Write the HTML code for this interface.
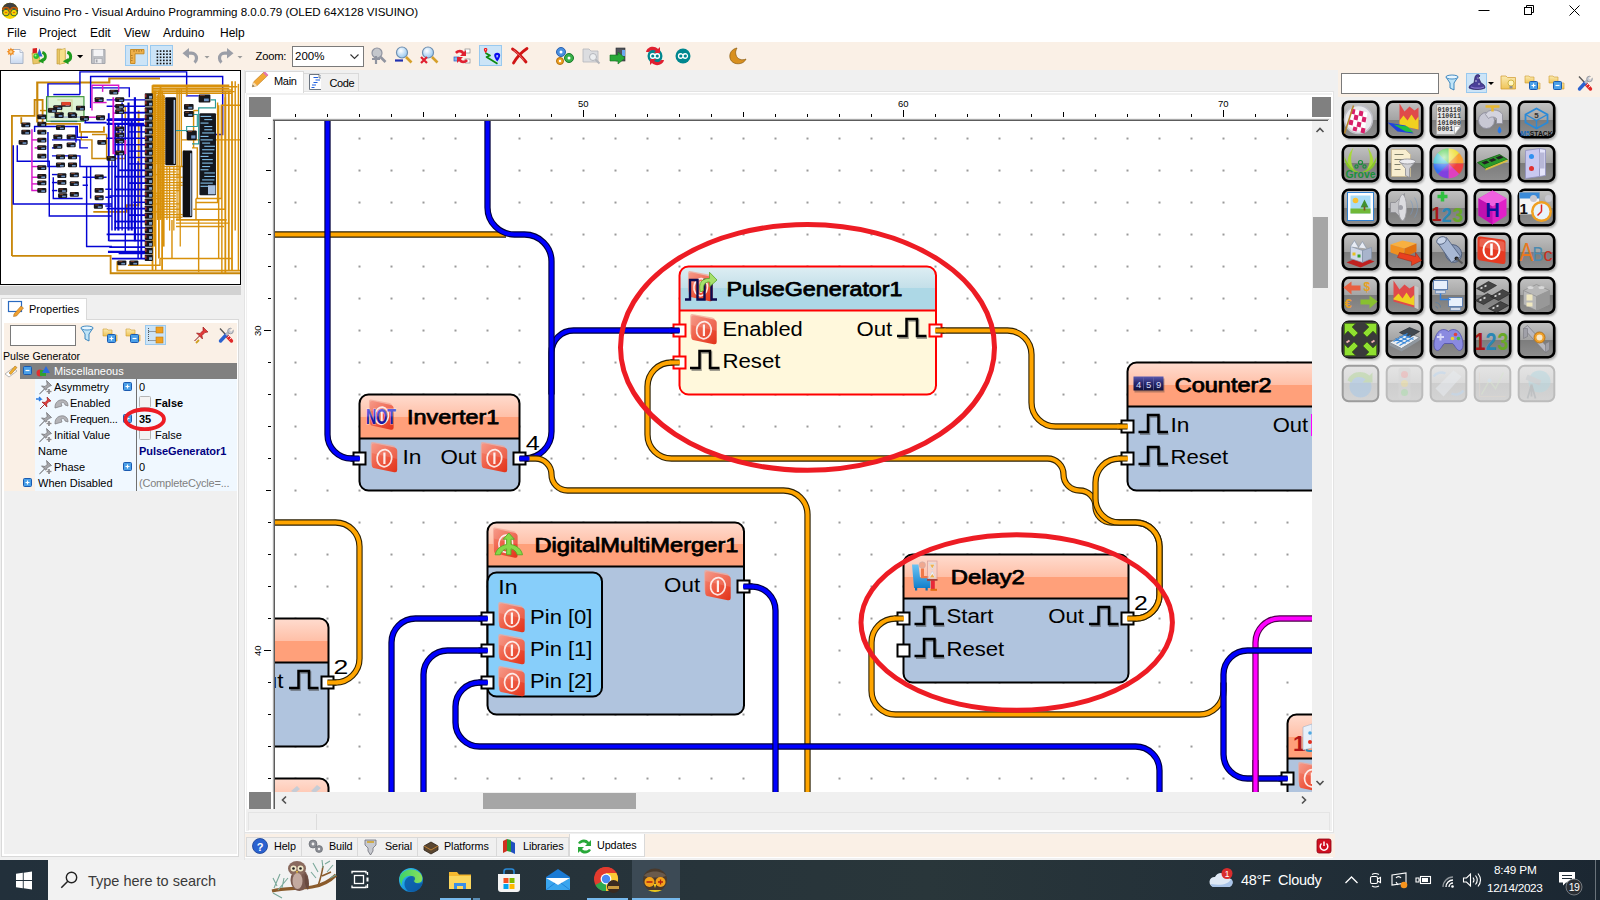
<!DOCTYPE html>
<html><head><meta charset="utf-8"><title>Visuino</title>
<style>
*{box-sizing:border-box;margin:0;padding:0}
html,body{width:1600px;height:900px;overflow:hidden;background:#f0f0f0;font-family:"Liberation Sans",sans-serif;font-size:12px;color:#000}
.a{position:absolute}
.t{position:absolute;white-space:nowrap;line-height:1}
#title{left:0;top:0;width:1600px;height:22px;background:#fff}
#menu{left:0;top:22px;width:1600px;height:20px;background:#fff}
#tool{left:0;top:42px;width:1600px;height:28px;background:#faf0e6}
#task{left:0;top:860px;width:1600px;height:40px;background:#1e2d3c}
.m{top:5px;font-size:12px}
.b{top:771px;font-size:10.800px;letter-spacing:-.1px}
.bt{top:768px;width:1px;height:18px;background:#d9d9d9}
.p{font-size:11px}
</style></head><body>

<!-- TITLE -->
<div id="title" class="a">
<svg class="a" style="left:1px;top:2px" width="18" height="18" viewBox="1 2 18 18"><defs><clipPath id="oc"><circle cx="10" cy="10.800" r="8.100"/></clipPath></defs><g clip-path="url(#oc)"><rect x="1" y="2" width="18" height="18" fill="#f5d800"/><rect x="1" y="2" width="18" height="7.500" fill="#404040"/><path d="M1 8.500c3 0 6 .5 9 2.500 3-2 6-2.500 9-2.500v2c-3 0-6 .5-9 2.500-3-2-6-2.500-9-2.500z" fill="#c05a08"/><path d="M1 10h2v5h-2zM17 10h2v5h-2z" fill="#2a4a3a"/><circle cx="6" cy="12.600" r="3.300" fill="#f8c800" stroke="#2f6a3a" stroke-width="1"/><circle cx="14" cy="12.600" r="3.300" fill="#f8d800" stroke="#2f6a3a" stroke-width="1"/><path d="M2.500 10.200a3.600 3.600 0 0 1 7 0M10.500 10.200a3.600 3.600 0 0 1 7 0" fill="none" stroke="#c05a08" stroke-width="1.400"/><ellipse cx="6" cy="12.500" rx="1.300" ry=".8" fill="#d86a10"/><ellipse cx="14" cy="12.500" rx="1.300" ry=".8" fill="#d86a10"/><path d="M10 10.500v4" stroke="#c86a10" stroke-width="1.200"/></g></svg>
<span class="t" id="ttl" style="left:23px;top:6px;font-size:11.600px;letter-spacing:-.04px">Visuino Pro - Visual Arduino Programming 8.0.0.79 (OLED 64X128 VISUINO)</span>
<svg class="a" style="left:1470px;top:0" width="130" height="22" viewBox="0 0 130 22" fill="none" stroke="#000" stroke-width="1"><path d="M8.5 10.5h11"/><rect x="54.5" y="7.5" width="7" height="7"/><path d="M56.5 7.5v-2h7v7h-2"/><path d="M99.5 5.5l10 10M109.5 5.5l-10 10"/></svg>
</div>
<div id="menu" class="a">
<span class="t m" style="left:7px">File</span><span class="t m" style="left:39px">Project</span><span class="t m" style="left:90px">Edit</span><span class="t m" style="left:124px">View</span><span class="t m" style="left:163px">Arduino</span><span class="t m" style="left:220px">Help</span>
</div>
<div id="tool" class="a">
<svg class="a" style="left:0;top:0" width="770" height="28" viewBox="0 42 770 28">
<defs>
<linearGradient id="gFold" x1="0" y1="0" x2="0" y2="1"><stop offset="0" stop-color="#fbeab0"/><stop offset="1" stop-color="#efc457"/></linearGradient>
<radialGradient id="gLens" cx=".4" cy=".35" r=".7"><stop offset="0" stop-color="#fff"/><stop offset="1" stop-color="#8fc4f0"/></radialGradient>
</defs>
<!-- new -->
<defs><linearGradient id="gDoc" x1="0" y1="0" x2="0" y2="1"><stop offset="0" stop-color="#fff"/><stop offset="1" stop-color="#c9d9f0"/></linearGradient></defs>
<path d="M10.500 49.500h9.500l3 3v11h-12.500z" fill="url(#gDoc)" stroke="#a9b4c6"/><path d="M20 49.500v3h3" fill="#eef3fb" stroke="#a9b4c6" stroke-width=".8"/><path d="M10.900 47.600l1 1.800 2-.6-.6 2 1.800 1-1.800 1 .6 2-2-.6-1 1.800-1-1.800-2 .6.600-2-1.800-1 1.800-1-.6-2 2 .6z" fill="#f08a1c"/><circle cx="10.900" cy="51.800" r="1.600" fill="#fbd08a"/>
<!-- open proj -->
<path d="M32 53h7l1 10-7 1z" fill="#e9c766" stroke="#b8922e" stroke-width=".6"/><path d="M32.600 48.500l4.400-.5v4.700l-4.400.5z" fill="#d82020"/><path d="M39.500 48.500l3 8h-6z" fill="#2a6ad8"/><circle cx="36.200" cy="56.300" r="2.700" fill="#2cc02c"/><circle cx="35.500" cy="55.500" r="1" fill="#a8f0a0"/><path d="M42.300 52.300a4.300 4.300 0 0 1 .2 8.200" fill="none" stroke="#1e9a1e" stroke-width="2.800"/><path d="M43.500 57.800v5.800l-5.300-2.700z" fill="#1e9a1e"/>
<!-- folder arrow -->
<path d="M57 49h4.500l1 1.300h2.700V63l-8.200 1z" fill="#e9c766" stroke="#b8922e" stroke-width=".6"/><path d="M59.500 50l5.700-1.700V62.500L59.500 64.500z" fill="#f6e08a" stroke="#c09a38" stroke-width=".5"/><path d="M67.300 52.300a4.600 4.600 0 0 1 .2 8.800" fill="none" stroke="#1e9a1e" stroke-width="3"/><path d="M68.500 58v6.200l-5.700-2.900z" fill="#1e9a1e"/>
<path d="M77 55h6.200l-3.100 3.300z" fill="#000"/>
<!-- save disabled -->
<path d="M91.500 49.500h13.500v14h-13.500z" fill="#bdbfc4" stroke="#a4a6ac"/><rect x="93.500" y="49.500" width="9.500" height="6.500" fill="#f4f4f6"/><rect x="94.500" y="58.500" width="7.500" height="5" fill="#ececee" stroke="#a4a6ac" stroke-width=".6"/><rect x="95.800" y="59.500" width="1.700" height="3" fill="#a4a6ac"/>
<!-- ruler btn -->
<rect x="125.500" y="45.500" width="22" height="20" fill="#cce4f7" stroke="#99c9ef"/><path d="M130.500 49.500h13.500v4.300h-9v9.700h-4.500z" fill="#eeb04a" stroke="#c4861c" stroke-width=".9"/><path d="M134 50v2M136.500 50v1.500M139 50v2M141.500 50v1.500M131 55.500h1.500M131 58h2M131 60.500h1.500" stroke="#8a5a10" stroke-width=".6"/>
<!-- grid btn -->
<rect x="150.500" y="45.500" width="22" height="20" fill="#cce4f7" stroke="#99c9ef"/>
<g fill="#111"><rect x="156.6" y="50.3" width="1.600" height="1.600"/><rect x="156.6" y="53.4" width="1.600" height="1.600"/><rect x="156.6" y="56.5" width="1.600" height="1.600"/><rect x="156.6" y="59.6" width="1.600" height="1.600"/><rect x="156.6" y="62.7" width="1.600" height="1.600"/><rect x="159.8" y="50.3" width="1.600" height="1.600"/><rect x="159.8" y="53.4" width="1.600" height="1.600"/><rect x="159.8" y="56.5" width="1.600" height="1.600"/><rect x="159.8" y="59.6" width="1.600" height="1.600"/><rect x="159.8" y="62.7" width="1.600" height="1.600"/><rect x="163.0" y="50.3" width="1.600" height="1.600"/><rect x="163.0" y="53.4" width="1.600" height="1.600"/><rect x="163.0" y="56.5" width="1.600" height="1.600"/><rect x="163.0" y="59.6" width="1.600" height="1.600"/><rect x="163.0" y="62.7" width="1.600" height="1.600"/><rect x="166.2" y="50.3" width="1.600" height="1.600"/><rect x="166.2" y="53.4" width="1.600" height="1.600"/><rect x="166.2" y="56.5" width="1.600" height="1.600"/><rect x="166.2" y="59.6" width="1.600" height="1.600"/><rect x="166.2" y="62.7" width="1.600" height="1.600"/><rect x="169.4" y="50.3" width="1.600" height="1.600"/><rect x="169.4" y="53.4" width="1.600" height="1.600"/><rect x="169.4" y="56.5" width="1.600" height="1.600"/><rect x="169.4" y="59.6" width="1.600" height="1.600"/><rect x="169.4" y="62.7" width="1.600" height="1.600"/></g>
<!-- undo/redo -->
<path d="M188 53.200h3.500a5 5 0 0 1 5 5c0 1.800-.8 3.200-2 4.200" fill="none" stroke="#9b9ea7" stroke-width="3.200"/><path d="M182.500 53.200l6.500-5.200v10.400z" fill="#9b9ea7"/><path d="M204.500 56h5l-2.500 2.500z" fill="#9a9a9a"/>
<path d="M228 53.200h-3.500a5 5 0 0 0-5 5c0 1.800.8 3.200 2 4.200" fill="none" stroke="#9b9ea7" stroke-width="3.200"/><path d="M233.500 53.200l-6.500-5.200v10.400z" fill="#9b9ea7"/><path d="M237.500 56h5l-2.500 2.500z" fill="#9a9a9a"/>
<!-- combobox -->
<rect x="292.500" y="46.500" width="71" height="20" fill="#fff" stroke="#7a7a7a"/><path d="M350.500 54.500l4 4 4-4" fill="none" stroke="#333" stroke-width="1.100"/>
<!-- zoom icons -->
<g><circle cx="377" cy="53" r="5" fill="#c4c7cc" stroke="#9094a0" stroke-width="1.200"/><path d="M380.500 57l5 5" stroke="#9094a0" stroke-width="2.600"/><path d="M372 59h8M376 56v8" stroke="#9094a0" stroke-width="2.200"/></g>
<g><circle cx="402" cy="52.500" r="5.500" fill="url(#gLens)" stroke="#6f8fb0" stroke-width="1.200"/><path d="M406 57l5.500 5.500" stroke="#d6a02a" stroke-width="2.600"/><path d="M395 60.500h8" stroke="#2030b0" stroke-width="2.200"/></g>
<g><circle cx="428" cy="52.500" r="5.500" fill="url(#gLens)" stroke="#6f8fb0" stroke-width="1.200"/><path d="M432 57l5.500 5.500" stroke="#d6a02a" stroke-width="2.600"/><path d="M421 57l6 6M427 57l-6 6" stroke="#e02030" stroke-width="2.200"/></g>
<!-- arrows swap -->
<g><rect x="465" y="49" width="5" height="4" fill="#fff" stroke="#8a8a8a" stroke-width=".7"/><rect x="465" y="59" width="5" height="4" fill="#fff" stroke="#8a8a8a" stroke-width=".7"/><rect x="454" y="57" width="5" height="4" fill="#7fb8f0" stroke="#3060c0" stroke-width=".7"/><path d="M455 52c3-3 7-3 9 0l2-2v6h-6l2-2c-1-2-4-2-5 0z" fill="#e02030"/><path d="M468 61c-3 3-7 3-9 0l-2 2v-6h6l-2 2c1 2 4 2 5 0z" fill="#e02030"/></g>
<!-- route selected -->
<rect x="479.500" y="45.500" width="22" height="20" fill="#cce4f7" stroke="#99c9ef"/><path d="M485.500 53l4.500 2.500-3.500 1.500 11 6.700" fill="none" stroke="#0e8a0e" stroke-width="1.700" stroke-linejoin="round"/><path d="M485.600 53.200c-2.300-3-2.300-5.200 0-5.200s2.300 2.200 0 5.200z" fill="#f01010"/><circle cx="485.600" cy="49.700" r=".7" fill="#fbb"/><path d="M497.200 61.500c-4-5-4-8.700 0-8.700s4 3.700 0 8.700z" fill="#0808f0"/><rect x="496.300" y="55" width="1.800" height="2.400" fill="#9ab0ff"/>
<!-- red X -->
<path d="M512.500 49c5 3 9 7.500 13.500 13M527 48.500c-6 4-10 8.500-13.500 14.500" stroke="#d01414" stroke-width="2.800" fill="none" stroke-linecap="round"/><path d="M513.500 50c4 3 7 6 10.500 10.500" stroke="#f08080" stroke-width=".8" fill="none"/>
<!-- gears -->
<g><circle cx="561" cy="52" r="4.500" fill="#4a90e0" stroke="#2a60b0"/><circle cx="569" cy="58" r="4.500" fill="#38b048" stroke="#1a7a28"/><circle cx="560" cy="61" r="3.500" fill="#f0a020" stroke="#b07010"/><circle cx="561" cy="52" r="1.500" fill="#fff"/><circle cx="569" cy="58" r="1.500" fill="#fff"/><circle cx="560" cy="61" r="1.200" fill="#fff"/></g>
<!-- gray folder -->
<g><path d="M583 49h6l2 2h7v11h-15z" fill="#dcdde0" stroke="#b4b6bb" stroke-width=".8"/><circle cx="593" cy="57" r="3.500" fill="#eceef0" stroke="#b4b6bb"/><path d="M595.500 59.500l4 4" stroke="#b4b6bb" stroke-width="2"/></g>
<!-- upload -->
<g><rect x="616" y="48" width="9" height="13" fill="#50545c" stroke="#2a2c30" stroke-width=".6"/><rect x="622" y="50" width="3" height="6" fill="#6aa8f0"/><path d="M610 55h8v-3l7 6-7 6v-3h-8z" fill="#28a838" stroke="#107020" stroke-width=".6"/></g>
<!-- arduino red/teal -->
<g><circle cx="655" cy="56" r="7.500" fill="#00878f"/><path d="M650.500 56a2 2 0 1 1 4.500 0a2 2 0 1 0 4.500 0a2 2 0 1 0-4.500 0a2 2 0 1 1-4.500 0z" fill="none" stroke="#fff" stroke-width="1.300"/><path d="M646 52c1-5 8-7 12-3l2-2v6h-6l2-2c-3-2-6-1-7 1z" fill="#e02030"/><path d="M664 60c-1 5-8 7-12 3l-2 2v-6h6l-2 2c3 2 6 1 7-1z" fill="#e02030"/></g>
<g><circle cx="683" cy="56" r="7.500" fill="#00878f"/><path d="M678.500 56a2 2 0 1 1 4.500 0a2 2 0 1 0 4.500 0a2 2 0 1 0-4.500 0a2 2 0 1 1-4.500 0z" fill="none" stroke="#fff" stroke-width="1.300"/></g>
<!-- moon -->
<path d="M737 48c-5 1-8 5-7 10 1 5 7 7 12 5 2-1 3-2 4-4-4 2-9 0-10-4-1-3 0-5 1-7z" fill="#d89020" stroke="#8a5a10" stroke-width=".7"/>
</svg>
<span class="t" style="left:255.500px;top:9px;font-size:11.200px;letter-spacing:-.2px">Zoom:</span>
<span class="t" style="left:295px;top:9px;font-size:11.500px">200%</span>
</div>

<!-- LEFT -->
<div id="left" class="a" style="left:0;top:70px;width:245px;height:790px;background:#f0f0f0">
<div class="a" style="left:0;top:0;width:241px;height:215px;background:#fff;border:1px solid #000"></div>
<div class="a" style="left:0;top:216px;width:241px;height:9px;background:#d2d2d2"></div>
<div class="a" style="left:241px;top:0;width:3px;height:790px;background:#f0f0f0"></div>
<div class="a" style="left:244px;top:0;width:1px;height:790px;background:#e4e4e4"></div>
<!-- properties frame -->
<div class="a" style="left:1px;top:249px;width:238px;height:538px;background:#fff;border:1px solid #d9d9d9"></div>
<div class="a" style="left:4px;top:253px;width:233px;height:531px;background:#f0f0f0"></div>
<div class="a" style="left:1px;top:228px;width:86px;height:22px;background:#fff;border:1px solid #d9d9d9;border-bottom:none"></div>
<span class="t" style="left:29px;top:234px;font-size:11px">Properties</span>
<!-- beige area -->
<div class="a" style="left:4px;top:253px;width:233px;height:40px;background:#faf0e6"></div>
<div class="a" style="left:4px;top:293px;width:31px;height:128px;background:#faf0e6"></div>
<div class="a" style="left:35px;top:309px;width:202px;height:112px;background:#f0f8ff"></div>
<div class="a" style="left:20px;top:293px;width:217px;height:16px;background:#808080"></div>
<div class="a" style="left:136px;top:309px;width:1px;height:112px;background:#707070"></div>
<div class="a" style="left:9.500px;top:254.500px;width:66px;height:21px;background:#fff;border:1px solid #7a7a7a"></div>
<div class="a" style="left:144.500px;top:254.500px;width:21px;height:20px;background:#cce4f7;border:1px solid #99c9ef"></div>
<span class="t" style="left:3px;top:281px;font-size:10.600px">Pulse Generator</span>
<span class="t" style="left:54px;top:296px;font-size:11px;color:#fff">Miscellaneous</span>
<span class="t p" style="left:54px;top:312px">Asymmetry</span>
<span class="t p" style="left:70px;top:328px">Enabled</span>
<span class="t p" style="left:70px;top:344px;letter-spacing:-.25px">Frequen...</span>
<span class="t p" style="left:54px;top:360px">Initial Value</span>
<span class="t p" style="left:38px;top:376px">Name</span>
<span class="t p" style="left:54px;top:392px">Phase</span>
<span class="t p" style="left:38px;top:408px">When Disabled</span>
<span class="t p" style="left:139px;top:312px">0</span>
<span class="t p" style="left:155px;top:328px;font-weight:bold">False</span>
<span class="t p" style="left:139px;top:344px;font-weight:bold">35</span>
<span class="t p" style="left:155px;top:360px">False</span>
<span class="t p" style="left:139px;top:376px;font-weight:bold;color:#000080;letter-spacing:-.05px">PulseGenerator1</span>
<span class="t p" style="left:139px;top:392px">0</span>
<span class="t p" style="left:139px;top:408px;color:#808080;letter-spacing:-.2px">(CompleteCycle=...</span>
<div class="a" style="left:139px;top:326px;width:12px;height:12px;background:#f3f3f3;border:1px solid #b4b4b4;border-radius:1.5px"></div>
<div class="a" style="left:139px;top:358px;width:12px;height:12px;background:#f3f3f3;border:1px solid #b4b4b4;border-radius:1.5px"></div>
<svg class="a" style="left:0;top:228px" width="245" height="200" viewBox="0 298 245 200">
<defs><linearGradient id="gF2" x1="0" y1="0" x2="0" y2="1"><stop offset="0" stop-color="#fbeab0"/><stop offset="1" stop-color="#efc457"/></linearGradient>
<g id="plus"><rect x=".5" y=".5" width="8" height="8" rx="1" fill="#4aa0e8" stroke="#1a5ab0"/><path d="M2.500 4.500h4M4.500 2.500v4" stroke="#fff" stroke-width="1.200"/></g>
<g id="gpin"><path d="M8.500 .5l5 5-2.300.8-2.200 2.200.6 3.500-3-3L1.500 14l5-5.100-3-3 3.500.6 2.200-2.200z" fill="#a4a4a8" stroke="#6c6c70" stroke-width=".7"/><path d="M8 11.500h6M11 8.500v6" stroke="#fff" stroke-width="3"/><path d="M8.500 11.500h5M11 9v5" stroke="#8a8a8e" stroke-width="1.700"/></g>
<g id="garr"><path d="M2 10c0-5 4-8 9-7 3 1 4 3 4 6l-3-1c0-2-2-3-4-2l1 3-7 2z" fill="#b4b4b8" stroke="#7a7a7e" stroke-width=".7"/></g>
</defs>
<!-- properties tab icon -->
<rect x="8.500" y="301.500" width="13" height="10" fill="#fff" stroke="#2a6ac0" stroke-width="1.200"/><path d="M14 314l7-8 2.500 2-7 8-3 .5z" fill="#f0a030" stroke="#a06010" stroke-width=".5"/>
<!-- toolbar icons -->
<path d="M81 328c0-2 12-2 12 0l-4 6v7l-4-2v-5z" fill="#bfe4f7" stroke="#2a7ab8" stroke-width=".9"/><ellipse cx="87" cy="328" rx="6" ry="2" fill="#e8f6ff" stroke="#2a7ab8" stroke-width=".8"/>
<g><path d="M103 329h4l1 1h4v6h-9z" fill="url(#gF2)" stroke="#cf9a2c" stroke-width=".6"/><path d="M108 334h4l1 1h4v6h-9z" fill="url(#gF2)" stroke="#cf9a2c" stroke-width=".6"/><use href="#plus" x="107" y="334"/></g>
<g><path d="M126 329h4l1 1h4v6h-9z" fill="url(#gF2)" stroke="#cf9a2c" stroke-width=".6"/><path d="M131 334h4l1 1h4v6h-9z" fill="url(#gF2)" stroke="#cf9a2c" stroke-width=".6"/><rect x="130.500" y="334.500" width="8" height="8" rx="1" fill="#4aa0e8" stroke="#1a5ab0"/><path d="M132.500 338.500h4" stroke="#fff" stroke-width="1.200"/></g>
<g transform="translate(-1 0)"><path d="M149.500 328v14M149.500 331.500h7M149.500 340.500h7" stroke="#555" stroke-width="1" stroke-dasharray="1 1"/><rect x="157" y="327" width="7" height="6" fill="#f0a020" stroke="#c07a10" stroke-width=".6"/><rect x="157" y="337" width="7" height="6" fill="#f0a020" stroke="#c07a10" stroke-width=".6"/></g>
<g><path d="M203 327l5 5-3 .5-3 3 .5 3.500-3-3-5 5 5-5-3-3 3.500.5 3-3z" fill="#e03a3a" stroke="#901010" stroke-width=".6"/><path d="M196 343l3-3" stroke="#d0a020" stroke-width="1.800"/></g>
<g transform="translate(219 328)"><path d="M1 0.500L7 7" stroke="#555" stroke-width="1.300"/><path d="M7 7l5.500 6" stroke="#e02828" stroke-width="3.400" stroke-linecap="round"/><path d="M8.500 9.500l2-2M10.500 11.500l2-2" stroke="#fff" stroke-width=".8"/><path d="M1.500 13L7.500 6.500" stroke="#2a62d0" stroke-width="3.400" stroke-linecap="round"/><path d="M7 7l3.500-3.500" stroke="#b8bcc4" stroke-width="2.600"/><circle cx="11.500" cy="3" r="2.800" fill="#c8ccd4" stroke="#80848c" stroke-width=".7"/><path d="M11.500 3l3-3" stroke="#faf0e6" stroke-width="2"/></g>
<!-- row icons -->
<path d="M5 374l8-6 4 3-8 6z" fill="#fff" stroke="#9a9a9a" stroke-width=".7"/><path d="M9 373l6-7 2 1.500-6 7z" fill="#f0b030" stroke="#a06010" stroke-width=".5"/>
<rect x="23.500" y="366.500" width="8" height="8" rx="1" fill="#4aa0e8" stroke="#1a5ab0"/><path d="M25.500 370.500h4" stroke="#fff" stroke-width="1.200"/>
<circle cx="40" cy="373" r="3.500" fill="#e03030"/><rect x="40" y="370" width="6" height="6" fill="#30a030"/><path d="M46 366l4 7h-8z" fill="#2a6ae0"/>
<use href="#gpin" x="38" y="380"/><use href="#plus" x="123" y="382"/>
<g><path d="M47 397l4 4-2 .5-2.500 2.500.5 3-2.500-2.500L40 409l4.500-4.500L42 402l3 .5 2.500-2.500z" fill="#e03a3a" stroke="#901010" stroke-width=".6"/><path d="M36 399h5l-2-2M41 399l-2 2" stroke="#2a7ae0" stroke-width="1.400" fill="none"/></g>
<use href="#garr" x="53" y="397"/>
<use href="#gpin" x="38" y="412"/><use href="#garr" x="53" y="413"/><use href="#plus" x="123" y="414"/>
<use href="#gpin" x="38" y="428"/>
<use href="#gpin" x="38" y="460"/><use href="#plus" x="123" y="462"/>
<use href="#plus" x="23" y="478"/>
<ellipse cx="144.700" cy="419.300" rx="19.300" ry="9.800" fill="none" stroke="#ed1c24" stroke-width="3.800"/>
</svg>
<svg class="a" style="left:1px;top:1px" width="239" height="213" viewBox="4 42 896 798" fill="none"><path d="M45 735 L45 210 L130 210 L130 150 L140 150" stroke="#c88608" stroke-width="6.8"/><path d="M45 735 L415 735 L415 800 L900 800" stroke="#c88608" stroke-width="6.8"/><path d="M140 235 L140 85 L410 85 L410 70 L600 70" stroke="#c88608" stroke-width="8.1"/><path d="M80 240 L80 215" stroke="#c88608" stroke-width="6.8"/><path d="M140 150 L160 150 L160 240 L300 240 L300 270 L390 270 L390 250" stroke="#c88608" stroke-width="6.8"/><path d="M305 270 L305 300 L345 300 L345 370 L400 370" stroke="#c88608" stroke-width="5.4"/><path d="M345 280 L400 280 L400 370 L470 370 L470 330" stroke="#c88608" stroke-width="5.4"/><path d="M470 330 L470 175" stroke="#c88608" stroke-width="5.4"/><path d="M175 145 L175 180 L230 180 L230 200" stroke="#c88608" stroke-width="5.4"/><path d="M150 190 L190 190" stroke="#c88608" stroke-width="5.4"/><path d="M215 150 L270 150 L270 190" stroke="#c88608" stroke-width="5.4"/><path d="M520 190 L520 545 L475 545 L475 570 L350 570" stroke="#c88608" stroke-width="6.8"/><path d="M300 130 L300 45 L700 45 L700 135 L745 135" stroke="#0404d4" stroke-width="5.4"/><path d="M340 180 L340 62 L835 62 L835 280 L810 280" stroke="#0404d4" stroke-width="5.4"/><path d="M180 200 L180 90 L300 90" stroke="#0404d4" stroke-width="5.4"/><path d="M200 130 L300 130" stroke="#0404d4" stroke-width="5.4"/><path d="M345 105 L485 105 L485 140" stroke="#0404d4" stroke-width="5.4"/><path d="M50 320 L50 540 L420 540" stroke="#0404d4" stroke-width="5.4"/><path d="M65 320 L65 380 L185 380 L185 585 L420 585" stroke="#0404d4" stroke-width="5.4"/><path d="M325 400 L325 700 L420 700" stroke="#0404d4" stroke-width="5.4"/><path d="M130 270 L130 250 L290 250 L290 290 L330 290" stroke="#0404d4" stroke-width="5.4"/><path d="M190 215 L320 215 L320 235 L400 235" stroke="#0404d4" stroke-width="6.8"/><path d="M190 230 L290 230" stroke="#0404d4" stroke-width="6.8"/><path d="M180 270 L180 400 L230 400" stroke="#0404d4" stroke-width="5.4"/><path d="M195 300 L300 300 L300 330 L330 330" stroke="#0404d4" stroke-width="5.4"/><path d="M195 330 L210 330" stroke="#0404d4" stroke-width="5.4"/><path d="M195 360 L300 360 L300 400 L440 400" stroke="#0404d4" stroke-width="5.4"/><path d="M195 430 L215 430" stroke="#0404d4" stroke-width="5.4"/><path d="M195 460 L215 460" stroke="#0404d4" stroke-width="5.4"/><path d="M195 490 L215 490" stroke="#0404d4" stroke-width="5.4"/><path d="M200 440 L200 520 L310 520" stroke="#0404d4" stroke-width="5.4"/><path d="M340 400 L340 520" stroke="#0404d4" stroke-width="5.4"/><path d="M310 440 L400 440" stroke="#0404d4" stroke-width="5.4"/><path d="M310 470 L330 470" stroke="#0404d4" stroke-width="5.4"/><path d="M395 485 L420 485" stroke="#0404d4" stroke-width="5.4"/><path d="M395 515 L420 515" stroke="#0404d4" stroke-width="5.4"/><path d="M395 548 L420 548" stroke="#0404d4" stroke-width="5.4"/><path d="M285 250 L285 310" stroke="#0404d4" stroke-width="5.4"/><path d="M400 225 L540 225" stroke="#0404d4" stroke-width="8.1"/><path d="M400 240 L540 240" stroke="#0404d4" stroke-width="8.1"/><path d="M408 200 L408 680" stroke="#0404d4" stroke-width="6.8"/><path d="M420 380 L420 640" stroke="#0404d4" stroke-width="5.4"/><path d="M432 240 L432 640" stroke="#0404d4" stroke-width="6.8"/><path d="M444 240 L444 640" stroke="#0404d4" stroke-width="8.1"/><path d="M458 160 L458 640" stroke="#0404d4" stroke-width="5.4"/><path d="M470 225 L470 720" stroke="#0404d4" stroke-width="5.4"/><path d="M482 160 L482 640" stroke="#0404d4" stroke-width="8.1"/><path d="M494 225 L494 640" stroke="#0404d4" stroke-width="8.1"/><path d="M506 140 L506 680" stroke="#0404d4" stroke-width="8.1"/><path d="M518 380 L518 745" stroke="#0404d4" stroke-width="5.4"/><path d="M530 240 L530 745" stroke="#0404d4" stroke-width="6.8"/><path d="M400 150 L545 150" stroke="#0404d4" stroke-width="5.4"/><path d="M400 174 L545 174" stroke="#0404d4" stroke-width="5.4"/><path d="M430 198 L545 198" stroke="#0404d4" stroke-width="6.8"/><path d="M410 222 L545 222" stroke="#0404d4" stroke-width="5.4"/><path d="M480 246 L545 246" stroke="#0404d4" stroke-width="6.8"/><path d="M480 270 L545 270" stroke="#0404d4" stroke-width="5.4"/><path d="M400 294 L545 294" stroke="#0404d4" stroke-width="5.4"/><path d="M430 318 L545 318" stroke="#0404d4" stroke-width="5.4"/><path d="M480 342 L545 342" stroke="#0404d4" stroke-width="5.4"/><rect x="175" y="138" width="140" height="92" fill="#d6f0cc" fill-opacity=".8" stroke="#2f8f2f" stroke-width="4"/><path d="M480 366 L545 366" stroke="#0404d4" stroke-width="5.4"/><path d="M480 390 L545 390" stroke="#0404d4" stroke-width="5.4"/><path d="M445 414 L545 414" stroke="#0404d4" stroke-width="6.8"/><path d="M430 438 L545 438" stroke="#0404d4" stroke-width="6.8"/><path d="M480 462 L545 462" stroke="#0404d4" stroke-width="6.8"/><path d="M430 486 L545 486" stroke="#0404d4" stroke-width="6.8"/><path d="M410 510 L545 510" stroke="#0404d4" stroke-width="5.4"/><path d="M500 534 L545 534" stroke="#0404d4" stroke-width="5.4"/><path d="M400 558 L545 558" stroke="#0404d4" stroke-width="6.8"/><path d="M480 582 L545 582" stroke="#0404d4" stroke-width="6.8"/><path d="M430 606 L545 606" stroke="#0404d4" stroke-width="6.8"/><path d="M430 630 L545 630" stroke="#0404d4" stroke-width="5.4"/><path d="M400 654 L545 654" stroke="#0404d4" stroke-width="6.8"/><path d="M410 678 L545 678" stroke="#0404d4" stroke-width="6.8"/><path d="M410 702 L545 702" stroke="#0404d4" stroke-width="6.8"/><path d="M445 726 L545 726" stroke="#0404d4" stroke-width="5.4"/><path d="M405 720 L545 720" stroke="#0404d4" stroke-width="8.1"/><path d="M420 745 L545 745" stroke="#0404d4" stroke-width="6.8"/><path d="M120 260 L120 490 L145 490" stroke="#d818c8" stroke-width="5.4"/><path d="M120 300 L150 300" stroke="#d818c8" stroke-width="5.4"/><path d="M120 400 L150 400" stroke="#d818c8" stroke-width="5.4"/><path d="M120 440 L150 440" stroke="#d818c8" stroke-width="5.4"/><path d="M120 465 L150 465" stroke="#d818c8" stroke-width="5.4"/><path d="M130 330 L150 330" stroke="#d818c8" stroke-width="5.4"/><path d="M345 190 L345 95 L445 95 L445 120" stroke="#d818c8" stroke-width="5.4"/><path d="M385 95 L385 120" stroke="#d818c8" stroke-width="5.4"/><path d="M400 160 L350 160" stroke="#d818c8" stroke-width="5.4"/><path d="M425 140 L425 350 L470 350 L470 300" stroke="#d818c8" stroke-width="6.8"/><path d="M425 200 L465 200" stroke="#d818c8" stroke-width="5.4"/><path d="M310 215 L360 215" stroke="#d818c8" stroke-width="5.4"/><path d="M572 95 L572 790" stroke="#d8900a" stroke-width="6.8"/><path d="M578 115 L578 700" stroke="#d8900a" stroke-width="6.8"/><path d="M584 115 L584 790" stroke="#d8900a" stroke-width="5.4"/><path d="M590 130 L590 600" stroke="#d8900a" stroke-width="4.7"/><path d="M596 115 L596 745" stroke="#d8900a" stroke-width="6.8"/><path d="M602 95 L602 600" stroke="#d8900a" stroke-width="6.8"/><path d="M608 115 L608 790" stroke="#d8900a" stroke-width="6.8"/><path d="M614 130 L614 700" stroke="#d8900a" stroke-width="6.8"/><path d="M664 110 L664 400" stroke="#d8900a" stroke-width="5.4"/><path d="M672 110 L672 600" stroke="#d8900a" stroke-width="5.4"/><path d="M680 110 L680 400" stroke="#d8900a" stroke-width="5.4"/><path d="M626 400 L626 600" stroke="#d8900a" stroke-width="4.7"/><path d="M636 400 L636 640" stroke="#d8900a" stroke-width="4.7"/><path d="M652 400 L652 640" stroke="#d8900a" stroke-width="4.7"/><path d="M664 400 L664 600" stroke="#d8900a" stroke-width="4.7"/><path d="M676 400 L676 700" stroke="#d8900a" stroke-width="4.7"/><path d="M572 95 L860 95" stroke="#d8900a" stroke-width="5.4"/><path d="M572 101 L890 101" stroke="#d8900a" stroke-width="5.4"/><path d="M572 107 L860 107" stroke="#d8900a" stroke-width="5.4"/><path d="M572 113 L870 113" stroke="#d8900a" stroke-width="5.4"/><path d="M572 119 L880 119" stroke="#d8900a" stroke-width="5.4"/><path d="M572 125 L870 125" stroke="#d8900a" stroke-width="5.4"/><path d="M572 140 L620 140" stroke="#d8900a" stroke-width="4.7"/><path d="M572 148 L620 148" stroke="#d8900a" stroke-width="4.7"/><path d="M572 156 L620 156" stroke="#d8900a" stroke-width="4.7"/><path d="M572 164 L620 164" stroke="#d8900a" stroke-width="4.7"/><path d="M572 172 L620 172" stroke="#d8900a" stroke-width="4.7"/><path d="M572 180 L620 180" stroke="#d8900a" stroke-width="4.7"/><path d="M572 188 L620 188" stroke="#d8900a" stroke-width="4.7"/><path d="M572 196 L620 196" stroke="#d8900a" stroke-width="4.7"/><path d="M572 204 L620 204" stroke="#d8900a" stroke-width="4.7"/><path d="M572 212 L620 212" stroke="#d8900a" stroke-width="4.7"/><path d="M572 220 L620 220" stroke="#d8900a" stroke-width="4.7"/><path d="M572 228 L620 228" stroke="#d8900a" stroke-width="4.7"/><path d="M572 236 L620 236" stroke="#d8900a" stroke-width="4.7"/><path d="M572 244 L620 244" stroke="#d8900a" stroke-width="4.7"/><path d="M572 252 L620 252" stroke="#d8900a" stroke-width="4.7"/><path d="M572 260 L620 260" stroke="#d8900a" stroke-width="4.7"/><path d="M572 268 L620 268" stroke="#d8900a" stroke-width="4.7"/><path d="M572 276 L620 276" stroke="#d8900a" stroke-width="4.7"/><path d="M572 284 L620 284" stroke="#d8900a" stroke-width="4.7"/><path d="M572 292 L620 292" stroke="#d8900a" stroke-width="4.7"/><path d="M572 300 L620 300" stroke="#d8900a" stroke-width="4.7"/><path d="M572 308 L620 308" stroke="#d8900a" stroke-width="4.7"/><path d="M572 316 L620 316" stroke="#d8900a" stroke-width="4.7"/><path d="M572 324 L620 324" stroke="#d8900a" stroke-width="4.7"/><path d="M572 332 L620 332" stroke="#d8900a" stroke-width="4.7"/><path d="M572 340 L620 340" stroke="#d8900a" stroke-width="4.7"/><path d="M572 348 L620 348" stroke="#d8900a" stroke-width="4.7"/><path d="M572 356 L620 356" stroke="#d8900a" stroke-width="4.7"/><path d="M572 364 L620 364" stroke="#d8900a" stroke-width="4.7"/><path d="M572 372 L620 372" stroke="#d8900a" stroke-width="4.7"/><path d="M572 380 L620 380" stroke="#d8900a" stroke-width="4.7"/><path d="M572 388 L620 388" stroke="#d8900a" stroke-width="4.7"/><path d="M600 400 L660 400" stroke="#d8900a" stroke-width="4.7"/><path d="M590 410 L675 410" stroke="#d8900a" stroke-width="4.7"/><path d="M590 420 L660 420" stroke="#d8900a" stroke-width="4.7"/><path d="M572 430 L675 430" stroke="#d8900a" stroke-width="4.7"/><path d="M590 440 L685 440" stroke="#d8900a" stroke-width="4.7"/><path d="M590 450 L660 450" stroke="#d8900a" stroke-width="4.7"/><path d="M590 460 L685 460" stroke="#d8900a" stroke-width="4.7"/><path d="M590 470 L685 470" stroke="#d8900a" stroke-width="4.7"/><path d="M590 480 L675 480" stroke="#d8900a" stroke-width="4.7"/><path d="M600 490 L675 490" stroke="#d8900a" stroke-width="4.7"/><path d="M572 500 L660 500" stroke="#d8900a" stroke-width="4.7"/><path d="M572 510 L660 510" stroke="#d8900a" stroke-width="4.7"/><path d="M572 520 L660 520" stroke="#d8900a" stroke-width="4.7"/><path d="M600 530 L660 530" stroke="#d8900a" stroke-width="4.7"/><path d="M572 540 L675 540" stroke="#d8900a" stroke-width="4.7"/><path d="M600 550 L660 550" stroke="#d8900a" stroke-width="4.7"/><path d="M590 560 L675 560" stroke="#d8900a" stroke-width="4.7"/><path d="M572 570 L660 570" stroke="#d8900a" stroke-width="4.7"/><path d="M590 580 L685 580" stroke="#d8900a" stroke-width="4.7"/><path d="M590 590 L685 590" stroke="#d8900a" stroke-width="4.7"/><path d="M820 170 L820 745" stroke="#d8900a" stroke-width="5.4"/><path d="M832 170 L832 800" stroke="#d8900a" stroke-width="5.4"/><path d="M845 120 L845 800" stroke="#d8900a" stroke-width="6.8"/><path d="M858 120 L858 790" stroke="#d8900a" stroke-width="6.8"/><path d="M870 80 L870 790" stroke="#d8900a" stroke-width="6.8"/><path d="M882 80 L882 640" stroke="#d8900a" stroke-width="5.4"/><path d="M894 90 L894 790" stroke="#d8900a" stroke-width="5.4"/><path d="M600 745 L870 745" stroke="#d8900a" stroke-width="5.4"/><path d="M645 600 L645 745" stroke="#d8900a" stroke-width="5.4"/><path d="M745 600 L745 795" stroke="#d8900a" stroke-width="5.4"/><path d="M440 755 L440 790 L900 790" stroke="#d8900a" stroke-width="6.8"/><path d="M480 770 L600 770 L600 745" stroke="#d8900a" stroke-width="5.4"/><path d="M660 600 L850 600" stroke="#d8900a" stroke-width="6.8"/><path d="M660 612 L860 612" stroke="#d8900a" stroke-width="5.4"/><path d="M660 625 L840 625" stroke="#d8900a" stroke-width="5.4"/><path d="M735 520 L735 600" stroke="#d8900a" stroke-width="5.4"/><path d="M735 520 L830 520 L830 170 L900 170" stroke="#d8900a" stroke-width="5.4"/><path d="M660 400 L690 400 L690 340" stroke="#d8900a" stroke-width="5.4"/><path d="M680 300 L900 300" stroke="#d8900a" stroke-width="5.4"/><path d="M700 135 L700 100" stroke="#d8900a" stroke-width="5.4"/><path d="M720 330 L740 330 L740 520" stroke="#d8900a" stroke-width="5.4"/><path d="M726 190 L726 330" stroke="#d8900a" stroke-width="5.4"/><path d="M726 190 L745 190" stroke="#d8900a" stroke-width="5.4"/><path d="M816 160 L816 535 L735 535" stroke="#d8900a" stroke-width="5.4"/><path d="M845 140 L845 560 L725 560" stroke="#d8900a" stroke-width="6.1"/><path d="M790 150 L808 150 L808 180 L745 180 L745 315 L720 315" stroke="#2a9a98" stroke-width="4.1"/><path d="M725 205 L740 205 L740 250 L700 250 L700 270" stroke="#2a9a98" stroke-width="4.1"/><path d="M660 265 L700 265" stroke="#2a9a98" stroke-width="4.1"/><rect x="80" y="235" width="34" height="18" rx="4" fill="#17171c"/><rect x="95" y="244" width="14" height="6" fill="#6f94c4"/><rect x="85" y="238" width="14" height="2.500" fill="#a05030"/><rect x="80" y="262" width="34" height="18" rx="4" fill="#17171c"/><rect x="95" y="271" width="14" height="6" fill="#6f94c4"/><rect x="85" y="265" width="14" height="2.500" fill="#a05030"/><rect x="70" y="300" width="34" height="18" rx="4" fill="#17171c"/><rect x="85" y="309" width="14" height="6" fill="#6f94c4"/><rect x="75" y="303" width="14" height="2.500" fill="#a05030"/><rect x="140" y="205" width="34" height="18" rx="4" fill="#17171c"/><rect x="155" y="214" width="14" height="6" fill="#6f94c4"/><rect x="145" y="208" width="14" height="2.500" fill="#a05030"/><rect x="140" y="232" width="34" height="18" rx="4" fill="#17171c"/><rect x="155" y="241" width="14" height="6" fill="#6f94c4"/><rect x="145" y="235" width="14" height="2.500" fill="#a05030"/><rect x="200" y="170" width="34" height="18" rx="4" fill="#17171c"/><rect x="215" y="179" width="14" height="6" fill="#6f94c4"/><rect x="205" y="173" width="14" height="2.500" fill="#a05030"/><rect x="255" y="200" width="34" height="18" rx="4" fill="#17171c"/><rect x="270" y="209" width="14" height="6" fill="#6f94c4"/><rect x="260" y="203" width="14" height="2.500" fill="#a05030"/><rect x="285" y="172" width="34" height="18" rx="4" fill="#17171c"/><rect x="300" y="181" width="14" height="6" fill="#6f94c4"/><rect x="290" y="175" width="14" height="2.500" fill="#a05030"/><rect x="300" y="210" width="34" height="18" rx="4" fill="#17171c"/><rect x="315" y="219" width="14" height="6" fill="#6f94c4"/><rect x="305" y="213" width="14" height="2.500" fill="#a05030"/><rect x="355" y="140" width="34" height="18" rx="4" fill="#17171c"/><rect x="370" y="149" width="14" height="6" fill="#6f94c4"/><rect x="360" y="143" width="14" height="2.500" fill="#a05030"/><rect x="410" y="112" width="34" height="18" rx="4" fill="#17171c"/><rect x="425" y="121" width="14" height="6" fill="#6f94c4"/><rect x="415" y="115" width="14" height="2.500" fill="#a05030"/><rect x="360" y="208" width="34" height="18" rx="4" fill="#17171c"/><rect x="375" y="217" width="14" height="6" fill="#6f94c4"/><rect x="365" y="211" width="14" height="2.500" fill="#a05030"/><rect x="140" y="262" width="34" height="18" rx="4" fill="#17171c"/><rect x="155" y="271" width="14" height="6" fill="#6f94c4"/><rect x="145" y="265" width="14" height="2.500" fill="#a05030"/><rect x="140" y="292" width="34" height="18" rx="4" fill="#17171c"/><rect x="155" y="301" width="14" height="6" fill="#6f94c4"/><rect x="145" y="295" width="14" height="2.500" fill="#a05030"/><rect x="140" y="320" width="34" height="18" rx="4" fill="#17171c"/><rect x="155" y="329" width="14" height="6" fill="#6f94c4"/><rect x="145" y="323" width="14" height="2.500" fill="#a05030"/><rect x="140" y="352" width="34" height="18" rx="4" fill="#17171c"/><rect x="155" y="361" width="14" height="6" fill="#6f94c4"/><rect x="145" y="355" width="14" height="2.500" fill="#a05030"/><rect x="140" y="395" width="34" height="18" rx="4" fill="#17171c"/><rect x="155" y="404" width="14" height="6" fill="#6f94c4"/><rect x="145" y="398" width="14" height="2.500" fill="#a05030"/><rect x="140" y="428" width="34" height="18" rx="4" fill="#17171c"/><rect x="155" y="437" width="14" height="6" fill="#6f94c4"/><rect x="145" y="431" width="14" height="2.500" fill="#a05030"/><rect x="140" y="452" width="34" height="18" rx="4" fill="#17171c"/><rect x="155" y="461" width="14" height="6" fill="#6f94c4"/><rect x="145" y="455" width="14" height="2.500" fill="#a05030"/><rect x="140" y="480" width="34" height="18" rx="4" fill="#17171c"/><rect x="155" y="489" width="14" height="6" fill="#6f94c4"/><rect x="145" y="483" width="14" height="2.500" fill="#a05030"/><rect x="200" y="280" width="34" height="18" rx="4" fill="#17171c"/><rect x="215" y="289" width="14" height="6" fill="#6f94c4"/><rect x="205" y="283" width="14" height="2.500" fill="#a05030"/><rect x="250" y="280" width="34" height="18" rx="4" fill="#17171c"/><rect x="265" y="289" width="14" height="6" fill="#6f94c4"/><rect x="255" y="283" width="14" height="2.500" fill="#a05030"/><rect x="200" y="315" width="34" height="18" rx="4" fill="#17171c"/><rect x="215" y="324" width="14" height="6" fill="#6f94c4"/><rect x="205" y="318" width="14" height="2.500" fill="#a05030"/><rect x="250" y="310" width="34" height="18" rx="4" fill="#17171c"/><rect x="265" y="319" width="14" height="6" fill="#6f94c4"/><rect x="255" y="313" width="14" height="2.500" fill="#a05030"/><rect x="210" y="355" width="34" height="18" rx="4" fill="#17171c"/><rect x="225" y="364" width="14" height="6" fill="#6f94c4"/><rect x="215" y="358" width="14" height="2.500" fill="#a05030"/><rect x="255" y="355" width="34" height="18" rx="4" fill="#17171c"/><rect x="270" y="364" width="14" height="6" fill="#6f94c4"/><rect x="260" y="358" width="14" height="2.500" fill="#a05030"/><rect x="210" y="385" width="34" height="18" rx="4" fill="#17171c"/><rect x="225" y="394" width="14" height="6" fill="#6f94c4"/><rect x="215" y="388" width="14" height="2.500" fill="#a05030"/><rect x="255" y="385" width="34" height="18" rx="4" fill="#17171c"/><rect x="270" y="394" width="14" height="6" fill="#6f94c4"/><rect x="260" y="388" width="14" height="2.500" fill="#a05030"/><rect x="215" y="425" width="34" height="18" rx="4" fill="#17171c"/><rect x="230" y="434" width="14" height="6" fill="#6f94c4"/><rect x="220" y="428" width="14" height="2.500" fill="#a05030"/><rect x="262" y="422" width="34" height="18" rx="4" fill="#17171c"/><rect x="277" y="431" width="14" height="6" fill="#6f94c4"/><rect x="267" y="425" width="14" height="2.500" fill="#a05030"/><rect x="215" y="450" width="34" height="18" rx="4" fill="#17171c"/><rect x="230" y="459" width="14" height="6" fill="#6f94c4"/><rect x="220" y="453" width="14" height="2.500" fill="#a05030"/><rect x="262" y="455" width="34" height="18" rx="4" fill="#17171c"/><rect x="277" y="464" width="14" height="6" fill="#6f94c4"/><rect x="267" y="458" width="14" height="2.500" fill="#a05030"/><rect x="218" y="480" width="34" height="18" rx="4" fill="#17171c"/><rect x="233" y="489" width="14" height="6" fill="#6f94c4"/><rect x="223" y="483" width="14" height="2.500" fill="#a05030"/><rect x="218" y="500" width="34" height="18" rx="4" fill="#17171c"/><rect x="233" y="509" width="14" height="6" fill="#6f94c4"/><rect x="223" y="503" width="14" height="2.500" fill="#a05030"/><rect x="262" y="495" width="34" height="18" rx="4" fill="#17171c"/><rect x="277" y="504" width="14" height="6" fill="#6f94c4"/><rect x="267" y="498" width="14" height="2.500" fill="#a05030"/><rect x="355" y="430" width="34" height="18" rx="4" fill="#17171c"/><rect x="370" y="439" width="14" height="6" fill="#6f94c4"/><rect x="360" y="433" width="14" height="2.500" fill="#a05030"/><rect x="355" y="480" width="34" height="18" rx="4" fill="#17171c"/><rect x="370" y="489" width="14" height="6" fill="#6f94c4"/><rect x="360" y="483" width="14" height="2.500" fill="#a05030"/><rect x="355" y="508" width="34" height="18" rx="4" fill="#17171c"/><rect x="370" y="517" width="14" height="6" fill="#6f94c4"/><rect x="360" y="511" width="14" height="2.500" fill="#a05030"/><rect x="352" y="540" width="34" height="18" rx="4" fill="#17171c"/><rect x="367" y="549" width="14" height="6" fill="#6f94c4"/><rect x="357" y="543" width="14" height="2.500" fill="#a05030"/><rect x="365" y="300" width="34" height="18" rx="4" fill="#17171c"/><rect x="380" y="309" width="14" height="6" fill="#6f94c4"/><rect x="370" y="303" width="14" height="2.500" fill="#a05030"/><rect x="400" y="360" width="34" height="18" rx="4" fill="#17171c"/><rect x="415" y="369" width="14" height="6" fill="#6f94c4"/><rect x="405" y="363" width="14" height="2.500" fill="#a05030"/><rect x="432" y="140" width="34" height="18" rx="4" fill="#17171c"/><rect x="447" y="149" width="14" height="6" fill="#6f94c4"/><rect x="437" y="143" width="14" height="2.500" fill="#a05030"/><rect x="432" y="165" width="34" height="18" rx="4" fill="#17171c"/><rect x="447" y="174" width="14" height="6" fill="#6f94c4"/><rect x="437" y="168" width="14" height="2.500" fill="#a05030"/><rect x="432" y="185" width="34" height="18" rx="4" fill="#17171c"/><rect x="447" y="194" width="14" height="6" fill="#6f94c4"/><rect x="437" y="188" width="14" height="2.500" fill="#a05030"/><rect x="432" y="250" width="34" height="18" rx="4" fill="#17171c"/><rect x="447" y="259" width="14" height="6" fill="#6f94c4"/><rect x="437" y="253" width="14" height="2.500" fill="#a05030"/><rect x="432" y="272" width="34" height="18" rx="4" fill="#17171c"/><rect x="447" y="281" width="14" height="6" fill="#6f94c4"/><rect x="437" y="275" width="14" height="2.500" fill="#a05030"/><rect x="432" y="295" width="34" height="18" rx="4" fill="#17171c"/><rect x="447" y="304" width="14" height="6" fill="#6f94c4"/><rect x="437" y="298" width="14" height="2.500" fill="#a05030"/><rect x="432" y="340" width="34" height="18" rx="4" fill="#17171c"/><rect x="447" y="349" width="14" height="6" fill="#6f94c4"/><rect x="437" y="343" width="14" height="2.500" fill="#a05030"/><rect x="440" y="752" width="34" height="18" rx="4" fill="#17171c"/><rect x="455" y="761" width="14" height="6" fill="#6f94c4"/><rect x="445" y="755" width="14" height="2.500" fill="#a05030"/><rect x="485" y="752" width="34" height="18" rx="4" fill="#17171c"/><rect x="500" y="761" width="14" height="6" fill="#6f94c4"/><rect x="490" y="755" width="14" height="2.500" fill="#a05030"/><rect x="210" y="245" width="34" height="18" rx="4" fill="#17171c"/><rect x="225" y="254" width="14" height="6" fill="#6f94c4"/><rect x="215" y="248" width="14" height="2.500" fill="#a05030"/><rect x="180" y="180" width="34" height="18" rx="4" fill="#17171c"/><rect x="195" y="189" width="14" height="6" fill="#6f94c4"/><rect x="185" y="183" width="14" height="2.500" fill="#a05030"/><rect x="230" y="158" width="36" height="18" rx="4" fill="#17171c"/><rect x="246" y="167" width="15" height="6" fill="#6f94c4"/><rect x="235" y="161" width="14" height="2.500" fill="#a05030"/><rect x="232" y="158" width="32" height="12" fill="#e0442a" stroke="#e0442a"/><rect x="205" y="196" width="34" height="22" rx="4" fill="#17171c"/><rect x="220" y="207" width="14" height="7" fill="#6f94c4"/><rect x="210" y="199" width="14" height="2.500" fill="#a05030"/><rect x="255" y="196" width="30" height="18" rx="4" fill="#17171c"/><rect x="268" y="205" width="13" height="6" fill="#6f94c4"/><rect x="260" y="199" width="12" height="2.500" fill="#a05030"/><rect x="543" y="125" width="30" height="24" rx="3" fill="#15151a"/><rect x="559" y="135" width="11" height="10" fill="#7fa4d0"/><rect x="545" y="129" width="4" height="12" fill="#d03030"/><rect x="543" y="151" width="30" height="24" rx="3" fill="#15151a"/><rect x="559" y="161" width="11" height="10" fill="#7fa4d0"/><rect x="545" y="155" width="4" height="12" fill="#d03030"/><rect x="543" y="178" width="30" height="24" rx="3" fill="#15151a"/><rect x="559" y="188" width="11" height="10" fill="#7fa4d0"/><rect x="545" y="182" width="4" height="12" fill="#d03030"/><rect x="543" y="204" width="30" height="24" rx="3" fill="#15151a"/><rect x="559" y="214" width="11" height="10" fill="#7fa4d0"/><rect x="545" y="208" width="4" height="12" fill="#d03030"/><rect x="543" y="230" width="30" height="24" rx="3" fill="#15151a"/><rect x="559" y="240" width="11" height="10" fill="#7fa4d0"/><rect x="545" y="234" width="4" height="12" fill="#d03030"/><rect x="543" y="256" width="30" height="24" rx="3" fill="#15151a"/><rect x="559" y="266" width="11" height="10" fill="#7fa4d0"/><rect x="545" y="260" width="4" height="12" fill="#d03030"/><rect x="543" y="283" width="30" height="24" rx="3" fill="#15151a"/><rect x="559" y="293" width="11" height="10" fill="#7fa4d0"/><rect x="545" y="287" width="4" height="12" fill="#d03030"/><rect x="543" y="309" width="30" height="24" rx="3" fill="#15151a"/><rect x="559" y="319" width="11" height="10" fill="#7fa4d0"/><rect x="545" y="313" width="4" height="12" fill="#d03030"/><rect x="543" y="335" width="30" height="24" rx="3" fill="#15151a"/><rect x="559" y="345" width="11" height="10" fill="#7fa4d0"/><rect x="545" y="339" width="4" height="12" fill="#d03030"/><rect x="543" y="362" width="30" height="24" rx="3" fill="#15151a"/><rect x="559" y="372" width="11" height="10" fill="#7fa4d0"/><rect x="545" y="366" width="4" height="12" fill="#d03030"/><rect x="543" y="388" width="30" height="24" rx="3" fill="#15151a"/><rect x="559" y="398" width="11" height="10" fill="#7fa4d0"/><rect x="545" y="392" width="4" height="12" fill="#d03030"/><rect x="543" y="414" width="30" height="24" rx="3" fill="#15151a"/><rect x="559" y="424" width="11" height="10" fill="#7fa4d0"/><rect x="545" y="418" width="4" height="12" fill="#d03030"/><rect x="543" y="441" width="30" height="24" rx="3" fill="#15151a"/><rect x="559" y="451" width="11" height="10" fill="#7fa4d0"/><rect x="545" y="445" width="4" height="12" fill="#d03030"/><rect x="543" y="467" width="30" height="24" rx="3" fill="#15151a"/><rect x="559" y="477" width="11" height="10" fill="#7fa4d0"/><rect x="545" y="471" width="4" height="12" fill="#d03030"/><rect x="543" y="493" width="30" height="24" rx="3" fill="#15151a"/><rect x="559" y="503" width="11" height="10" fill="#7fa4d0"/><rect x="545" y="497" width="4" height="12" fill="#d03030"/><rect x="543" y="520" width="30" height="24" rx="3" fill="#15151a"/><rect x="559" y="530" width="11" height="10" fill="#7fa4d0"/><rect x="545" y="524" width="4" height="12" fill="#d03030"/><rect x="543" y="546" width="30" height="24" rx="3" fill="#15151a"/><rect x="559" y="556" width="11" height="10" fill="#7fa4d0"/><rect x="545" y="550" width="4" height="12" fill="#d03030"/><rect x="543" y="572" width="30" height="24" rx="3" fill="#15151a"/><rect x="559" y="582" width="11" height="10" fill="#7fa4d0"/><rect x="545" y="576" width="4" height="12" fill="#d03030"/><rect x="543" y="598" width="30" height="24" rx="3" fill="#15151a"/><rect x="559" y="608" width="11" height="10" fill="#7fa4d0"/><rect x="545" y="602" width="4" height="12" fill="#d03030"/><rect x="543" y="625" width="30" height="24" rx="3" fill="#15151a"/><rect x="559" y="635" width="11" height="10" fill="#7fa4d0"/><rect x="545" y="629" width="4" height="12" fill="#d03030"/><rect x="543" y="651" width="30" height="24" rx="3" fill="#15151a"/><rect x="559" y="661" width="11" height="10" fill="#7fa4d0"/><rect x="545" y="655" width="4" height="12" fill="#d03030"/><rect x="543" y="677" width="30" height="24" rx="3" fill="#15151a"/><rect x="559" y="687" width="11" height="10" fill="#7fa4d0"/><rect x="545" y="681" width="4" height="12" fill="#d03030"/><rect x="543" y="704" width="30" height="24" rx="3" fill="#15151a"/><rect x="559" y="714" width="11" height="10" fill="#7fa4d0"/><rect x="545" y="708" width="4" height="12" fill="#d03030"/><rect x="543" y="730" width="30" height="24" rx="3" fill="#15151a"/><rect x="559" y="740" width="11" height="10" fill="#7fa4d0"/><rect x="545" y="734" width="4" height="12" fill="#d03030"/><rect x="620" y="140" width="40" height="255" rx="4" fill="#101014"/><rect x="651" y="150" width="6" height="240" fill="#a8c0e0"/><rect x="685" y="340" width="36" height="250" rx="4" fill="#101014"/><rect x="713" y="350" width="5" height="235" fill="#a8c0e0"/><rect x="748" y="200" width="62" height="308" rx="4" fill="#141820"/><rect x="752" y="210" width="40" height="4" fill="#86c4ee"/><rect x="766" y="222" width="30" height="4" fill="#86c4ee"/><rect x="752" y="235" width="30" height="4" fill="#86c4ee"/><rect x="766" y="248" width="30" height="4" fill="#86c4ee"/><rect x="766" y="260" width="30" height="4" fill="#86c4ee"/><rect x="758" y="272" width="46" height="4" fill="#86c4ee"/><rect x="752" y="285" width="30" height="4" fill="#86c4ee"/><rect x="752" y="298" width="46" height="4" fill="#86c4ee"/><rect x="758" y="310" width="30" height="4" fill="#86c4ee"/><rect x="766" y="322" width="40" height="4" fill="#86c4ee"/><rect x="758" y="335" width="46" height="4" fill="#86c4ee"/><rect x="758" y="348" width="40" height="4" fill="#86c4ee"/><rect x="752" y="360" width="30" height="4" fill="#86c4ee"/><rect x="758" y="372" width="40" height="4" fill="#86c4ee"/><rect x="758" y="385" width="40" height="4" fill="#86c4ee"/><rect x="758" y="398" width="30" height="4" fill="#86c4ee"/><rect x="752" y="410" width="30" height="4" fill="#86c4ee"/><rect x="766" y="422" width="40" height="4" fill="#86c4ee"/><rect x="766" y="435" width="40" height="4" fill="#86c4ee"/><rect x="758" y="448" width="46" height="4" fill="#86c4ee"/><rect x="752" y="460" width="46" height="4" fill="#86c4ee"/><rect x="752" y="472" width="30" height="4" fill="#86c4ee"/><rect x="780" y="470" width="28" height="34" fill="#a8c0e0"/><rect x="745" y="130" width="44" height="30" rx="4" fill="#17171c"/><rect x="765" y="145" width="18" height="10" fill="#6f94c4"/><rect x="750" y="133" width="18" height="2.500" fill="#a05030"/><rect x="690" y="165" width="36" height="22" rx="4" fill="#17171c"/><rect x="706" y="176" width="15" height="7" fill="#6f94c4"/><rect x="695" y="168" width="14" height="2.500" fill="#a05030"/><rect x="690" y="192" width="36" height="22" rx="4" fill="#17171c"/><rect x="706" y="203" width="15" height="7" fill="#6f94c4"/><rect x="695" y="195" width="14" height="2.500" fill="#a05030"/><rect x="700" y="265" width="38" height="36" rx="4" fill="#17171c"/><rect x="717" y="283" width="16" height="12" fill="#6f94c4"/><rect x="705" y="268" width="15" height="2.500" fill="#a05030"/></svg>
</div>

<!-- CENTER -->
<div id="center" class="a" style="left:245px;top:70px;width:1093px;height:790px;background:#f0f0f0">
<!-- tabs -->
<div class="a" style="left:58px;top:3px;width:56px;height:19px;border:1px solid #d9d9d9;border-bottom:none;background:#f0f0f0"></div>
<div class="a" style="left:0px;top:22px;width:1088px;height:740px;border:1px solid #fff;background:#f0f0f0;box-shadow:0 0 0 1px #e3e3e3"></div>
<div class="a" style="left:0px;top:1px;width:59px;height:22px;border:1px solid #d9d9d9;border-bottom:none;background:#fff"></div>
<span class="t" style="left:29px;top:6px;font-size:11px;letter-spacing:-.3px">Main</span>
<span class="t" style="left:84.500px;top:8px;font-size:11px;letter-spacing:-.4px">Code</span>
<svg class="a" style="left:6px;top:2px" width="70" height="22" viewBox="251 72 70 22">
<path d="M252.300 86.800l1.200-4.800 10.500-10 3.600 3.600-10.500 10z" fill="#f2a734" stroke="#b87818" stroke-width=".6"/><path d="M252.300 86.800l1.200-4.800 3.600 3.600z" fill="#f7dcae"/><path d="M252.300 86.800l.5-2 1.500 1.500z" fill="#555"/><path d="M263 73l1.800-1.700 3.600 3.600-1.800 1.700z" fill="#e276ae"/>
<path d="M309.500 74.500h9.500l3.500 3.500v11.500h-13z" fill="#fff" stroke="#5a6472" stroke-width=".9"/><path d="M319 74.500v3.500h3.500" fill="#dde3ea" stroke="#5a6472" stroke-width=".7"/><path d="M313.500 77.500h4.500M315.500 80h4.500M313.500 82.500h4M312 85h4M311.500 87.500h3" stroke="#2060e0" stroke-width="1.100"/>
</svg>
<!-- ruler bg -->
<div class="a" style="left:2px;top:25px;width:1086px;height:24px;background:#fff"></div>
<div class="a" style="left:2px;top:49px;width:27px;height:690px;background:#fff"></div>
<div class="a" style="left:28px;top:47.500px;width:1058px;height:1.500px;background:#f0f0f0"></div><div class="a" style="left:26.500px;top:49px;width:1.500px;height:673px;background:#f0f0f0"></div><div class="a" style="left:4px;top:27px;width:22px;height:20px;background:#808080"></div>
<div class="a" style="left:1067px;top:27px;width:19px;height:20px;background:#808080"></div>
<div class="a" style="left:4px;top:722px;width:22px;height:17px;background:#808080"></div>
<!-- canvas frame -->
<div class="a" style="left:28px;top:49px;width:1056px;height:1px;background:#a8a8a8;z-index:2"></div><div class="a" style="left:28px;top:50px;width:1055px;height:1px;background:#5c5c5c;z-index:2"></div>
<div class="a" style="left:28px;top:49px;width:1px;height:673px;background:#a8a8a8"></div><div class="a" style="left:29px;top:50px;width:1px;height:672px;background:#5c5c5c"></div><div class="a" style="left:28px;top:722px;width:1px;height:17px;background:#a8a8a8;z-index:2"></div><div class="a" style="left:29px;top:722px;width:1px;height:17px;background:#5c5c5c;z-index:2"></div>
<div class="a" style="left:30px;top:51px;width:1037px;height:671px;background:#fff"></div>
<!-- scrollbars -->
<div class="a" style="left:1067px;top:51px;width:17px;height:671px;background:#f0f0f0"></div>
<div class="a" style="left:1068px;top:147px;width:15px;height:71px;background:#a6a6a6"></div>
<div class="a" style="left:29px;top:722px;width:1055px;height:17px;background:#f0f0f0"></div>
<div class="a" style="left:238px;top:723px;width:153px;height:16px;background:#a6a6a6"></div>
<svg class="a" style="left:0;top:0" width="1093" height="790" viewBox="245 70 1093 790" fill="none" stroke="#505050" stroke-width="1.600">
<path d="M1316.500 132l3.500-3.500 3.500 3.500"/><path d="M1316.500 781l3.500 3.500 3.500-3.500"/><path d="M286 796.500l-3.500 3.500 3.500 3.500"/><path d="M1302 796.500l3.500 3.500-3.500 3.500"/>
<g fill="#000" stroke="none"><rect x="295" y="114" width="1" height="3"/><rect x="327" y="114" width="1" height="3"/><rect x="359" y="114" width="1" height="3"/><rect x="391" y="114" width="1" height="3"/><rect x="423" y="112" width="1" height="5"/><rect x="455" y="114" width="1" height="3"/><rect x="487" y="114" width="1" height="3"/><rect x="519" y="114" width="1" height="3"/><rect x="551" y="114" width="1" height="3"/><rect x="583" y="110" width="1" height="7"/><rect x="615" y="114" width="1" height="3"/><rect x="647" y="114" width="1" height="3"/><rect x="679" y="114" width="1" height="3"/><rect x="711" y="114" width="1" height="3"/><rect x="743" y="112" width="1" height="5"/><rect x="775" y="114" width="1" height="3"/><rect x="807" y="114" width="1" height="3"/><rect x="839" y="114" width="1" height="3"/><rect x="871" y="114" width="1" height="3"/><rect x="903" y="110" width="1" height="7"/><rect x="935" y="114" width="1" height="3"/><rect x="967" y="114" width="1" height="3"/><rect x="999" y="114" width="1" height="3"/><rect x="1031" y="114" width="1" height="3"/><rect x="1063" y="112" width="1" height="5"/><rect x="1095" y="114" width="1" height="3"/><rect x="1127" y="114" width="1" height="3"/><rect x="1159" y="114" width="1" height="3"/><rect x="1191" y="114" width="1" height="3"/><rect x="1223" y="110" width="1" height="7"/><rect x="1255" y="114" width="1" height="3"/><rect x="1287" y="114" width="1" height="3"/><rect x="268" y="138" width="3" height="1"/><rect x="266" y="170" width="5" height="1"/><rect x="268" y="202" width="3" height="1"/><rect x="268" y="234" width="3" height="1"/><rect x="268" y="266" width="3" height="1"/><rect x="268" y="298" width="3" height="1"/><rect x="264" y="330" width="7" height="1"/><rect x="268" y="362" width="3" height="1"/><rect x="268" y="394" width="3" height="1"/><rect x="268" y="426" width="3" height="1"/><rect x="268" y="458" width="3" height="1"/><rect x="266" y="490" width="5" height="1"/><rect x="268" y="522" width="3" height="1"/><rect x="268" y="554" width="3" height="1"/><rect x="268" y="586" width="3" height="1"/><rect x="268" y="618" width="3" height="1"/><rect x="264" y="650" width="7" height="1"/><rect x="268" y="682" width="3" height="1"/><rect x="268" y="714" width="3" height="1"/><rect x="268" y="746" width="3" height="1"/><rect x="268" y="778" width="3" height="1"/></g>
</svg>
<span class="t" style="left:333px;top:29px;font-size:9.5px">50</span>
<span class="t" style="left:653px;top:29px;font-size:9.5px">60</span>
<span class="t" style="left:973px;top:29px;font-size:9.5px">70</span>
<span class="t" style="left:7px;top:256px;font-size:9.5px;transform:rotate(-90deg);transform-origin:center">30</span>
<span class="t" style="left:7px;top:576px;font-size:9.5px;transform:rotate(-90deg);transform-origin:center">40</span>
<!-- status -->
<div class="a" style="left:3px;top:742px;width:1082px;height:19px;border:1px solid #e4e4e4;border-bottom-color:#fff;background:#f0f0f0"></div>
<div class="a" style="left:71px;top:744px;width:1px;height:16px;background:#dcdcdc"></div>
<!-- bottom tabs -->
<div class="a" style="left:0px;top:764px;width:1090px;height:23px;background:#faf0e6"></div>
<div class="a" style="left:0px;top:787px;width:1088px;height:1px;background:#fff"></div>
<div class="a" style="left:1px;top:767px;width:323px;height:20px;background:#f0f0f0;border:1px solid #d9d9d9"></div>
<div class="a" style="left:324px;top:764px;width:76px;height:23px;background:#fff;border:1px solid #d9d9d9;border-top:none"></div>
<div class="a bt" style="left:56px"></div><div class="a bt" style="left:112px"></div><div class="a bt" style="left:172px"></div><div class="a bt" style="left:251px"></div>
<span class="t b" style="left:29px">Help</span><span class="t b" style="left:84px">Build</span><span class="t b" style="left:140px">Serial</span><span class="t b" style="left:199px">Platforms</span><span class="t b" style="left:278px">Libraries</span><span class="t b" style="left:352px;top:770px">Updates</span>
<svg class="a" style="left:0;top:764px" width="1093" height="24" viewBox="245 834 1093 24">
<circle cx="260" cy="846" r="7.500" fill="#2a62d0" stroke="#163c90" stroke-width=".8"/><text x="260" y="850.500" font-size="11" font-weight="bold" fill="#fff" text-anchor="middle" font-family="Liberation Sans">?</text>
<g fill="#8a8d94" stroke="#5e6168" stroke-width=".6"><circle cx="313" cy="844" r="4"/><circle cx="319" cy="849" r="3.500"/></g><circle cx="313" cy="844" r="1.400" fill="#f0f0f0"/><circle cx="319" cy="849" r="1.200" fill="#f0f0f0"/>
<path d="M365 840h11v5l-3 3v3l-2.500 4-2.500-4v-3l-3-3z" fill="#c8cad0" stroke="#6e7078" stroke-width=".8"/><path d="M367 842h7" stroke="#d0a020" stroke-width="1.500"/>
<path d="M424 846l7-4 7 4v4l-7 4-7-4z" fill="#5a4630" stroke="#2a2016" stroke-width=".8"/><path d="M424 846l7 4 7-4" stroke="#c08030" fill="none" stroke-width="1"/>
<path d="M503 841l4-2v12l-4 2z" fill="#d03020"/><path d="M507 839l4 1v12l-4-1z" fill="#2a9a30"/><path d="M511 841l4 2v11l-4-2z" fill="#2050c0"/>
<path d="M578 843c2-4 8-5 11-1l2-2v6h-6l2-2c-2-2-5-2-7 0z" fill="#28a838"/><path d="M591 850c-2 4-8 5-11 1l-2 2v-6h6l-2 2c2 2 5 2 7 0z" fill="#28a838"/>
<rect x="1317" y="839" width="14" height="14" rx="2" fill="#d01020" stroke="#8a0010" stroke-width=".8"/><path d="M1321.500 843.500a3.800 3.800 0 1 0 5 0M1324 841.500v4.500" stroke="#fff" stroke-width="1.500" fill="none"/>
</svg>
</div>

<svg id="cv" class="a" style="left:275px;top:121px" width="1037" height="671" viewBox="275 121 1037 671"><defs>
<pattern id="dots" x="6.500" y="9.500" width="32" height="32" patternUnits="userSpaceOnUse"><rect x="0" y="0" width="2" height="2" rx=".6" fill="#909090"/></pattern>
<linearGradient id="hN" x1="0" y1="0" x2="0" y2="1"><stop offset="0" stop-color="#ffdccf"/><stop offset=".5" stop-color="#ffc0a8"/><stop offset=".5" stop-color="#ffa07a"/><stop offset="1" stop-color="#ffa07a"/></linearGradient>
<linearGradient id="hS" x1="0" y1="0" x2="0" y2="1"><stop offset="0" stop-color="#deeef3"/><stop offset=".5" stop-color="#c3dfe9"/><stop offset=".5" stop-color="#add8e6"/><stop offset="1" stop-color="#add8e6"/></linearGradient>
<linearGradient id="rI" x1="0" y1="0" x2="1" y2="1"><stop offset="0" stop-color="#f58a76"/><stop offset=".5" stop-color="#ee5a42"/><stop offset="1" stop-color="#e2331a"/></linearGradient>
<linearGradient id="nt" x1="0" y1="0" x2="0" y2="1"><stop offset="0" stop-color="#7070e8"/><stop offset=".45" stop-color="#4848d0"/><stop offset=".55" stop-color="#1a1aa8"/><stop offset="1" stop-color="#1818a0"/></linearGradient>
<linearGradient id="cn" x1="0" y1="0" x2="0" y2="1"><stop offset="0" stop-color="#5a5ab0"/><stop offset=".45" stop-color="#2a2a70"/><stop offset="1" stop-color="#10103a"/></linearGradient>
<linearGradient id="ch" x1="0" y1="0" x2="0" y2="1"><stop offset="0" stop-color="#6cc4f4"/><stop offset="1" stop-color="#1480cc"/></linearGradient>
<g id="ri"><path d="M2.500 0L22.500 3.500q3 .5 3 3.500v17q0 2.500-3 2L3 22q-2.500-.5-2.500-3.500V2.500q0-3 2-2.500z" fill="#f3a595" opacity=".75"/><path d="M4.500 1.500L24 5.500q3 .6 3 3.600v19q0 2.700-3 2.100L4.500 26.300q-3-.6-3-3.600V3.800q0-2.800 3-2.300z" fill="url(#rI)"/><ellipse cx="14.200" cy="16.200" rx="7.300" ry="8.600" fill="none" stroke="#fff" stroke-opacity=".85" stroke-width="1.700" transform="rotate(8 14.200 16.200)"/><path d="M14.200 10.500v11.500" stroke="#fff" stroke-opacity=".9" stroke-width="2.200"/><path d="M4.500 1.500L24 5.500q3 .6 3 3.600v8L1.500 11V3.800q0-2.800 3-2.300z" fill="#fff" opacity=".13"/></g>
<g id="pu" fill="none"><path d="M2 21.200h9V4h10.500v17.200h9" stroke="#444" stroke-opacity=".5" stroke-width="2.600"/><path d="M.5 19.500h9.500V2.500h10.500v17h9.500" stroke="#000" stroke-width="2.500"/></g>
</defs>
<rect x="274" y="120" width="1040" height="674" fill="#fff"/>
<rect x="274" y="120" width="1040" height="674" fill="url(#dots)"/>
<g fill="none" stroke-linejoin="round">
<path d="M270 234.5L506 234.5" stroke="#2e2204" stroke-width="6.300"/><path d="M270 234.5L506 234.5" stroke="#ffa500" stroke-width="4.100"/>
<path d="M327.5 115L327.5 434.5A24 24 0 0 0 351.5 458.5L359 458.5" stroke="#00003c" stroke-width="6.300"/><path d="M327.5 115L327.5 434.5A24 24 0 0 0 351.5 458.5L359 458.5" stroke="#0000ff" stroke-width="4.100"/>
<path d="M551.5 394.5L551.5 352.5A22 22 0 0 1 573.5 330.5L679 330.5" stroke="#00003c" stroke-width="6.300"/><path d="M551.5 394.5L551.5 352.5A22 22 0 0 1 573.5 330.5L679 330.5" stroke="#0000ff" stroke-width="4.100"/>
<path d="M487.5 115L487.5 207.5A27 27 0 0 0 514.5 234.5L524.5 234.5A27 27 0 0 1 551.5 261.5L551.5 431.5A27 27 0 0 1 524.5 458.5L520 458.5" stroke="#00003c" stroke-width="6.300"/><path d="M487.5 115L487.5 207.5A27 27 0 0 0 514.5 234.5L524.5 234.5A27 27 0 0 1 551.5 261.5L551.5 431.5A27 27 0 0 1 524.5 458.5L520 458.5" stroke="#0000ff" stroke-width="4.100"/>
<path d="M936 330.5L1007.5 330.5A24 24 0 0 1 1031.5 354.5L1031.5 402.5A24 24 0 0 0 1055.5 426.5L1127 426.5" stroke="#2e2204" stroke-width="6.300"/><path d="M936 330.5L1007.5 330.5A24 24 0 0 1 1031.5 354.5L1031.5 402.5A24 24 0 0 0 1055.5 426.5L1127 426.5" stroke="#ffa500" stroke-width="4.100"/>
<path d="M1128 618.5L1135.5 618.5A24 24 0 0 0 1159.5 594.5L1159.5 546.5A24 24 0 0 0 1135.5 522.5L1111.5 522.5A16 16 0 0 1 1095.5 506.5L1095.5 506.5A16 16 0 0 0 1079.5 490.5L1079.5 490.5A16 16 0 0 1 1063.5 474.5L1063.5 474.5A16 16 0 0 0 1047.5 458.5L671.5 458.5A24 24 0 0 1 647.5 434.5L647.5 386.5A24 24 0 0 1 671.5 362.5L679 362.5" stroke="#2e2204" stroke-width="6.300"/><path d="M1128 618.5L1135.5 618.5A24 24 0 0 0 1159.5 594.5L1159.5 546.5A24 24 0 0 0 1135.5 522.5L1111.5 522.5A16 16 0 0 1 1095.5 506.5L1095.5 506.5A16 16 0 0 0 1079.5 490.5L1079.5 490.5A16 16 0 0 1 1063.5 474.5L1063.5 474.5A16 16 0 0 0 1047.5 458.5L671.5 458.5A24 24 0 0 1 647.5 434.5L647.5 386.5A24 24 0 0 1 671.5 362.5L679 362.5" stroke="#ffa500" stroke-width="4.100"/>
<path d="M1128 618.5L1135.5 618.5A24 24 0 0 0 1159.5 594.5L1159.5 546.5A24 24 0 0 0 1135.5 522.5L1119.5 522.5A24 24 0 0 1 1095.5 498.5L1095.5 482.5A24 24 0 0 1 1119.5 458.5L1127 458.5" stroke="#2e2204" stroke-width="6.300"/><path d="M1128 618.5L1135.5 618.5A24 24 0 0 0 1159.5 594.5L1159.5 546.5A24 24 0 0 0 1135.5 522.5L1119.5 522.5A24 24 0 0 1 1095.5 498.5L1095.5 482.5A24 24 0 0 1 1119.5 458.5L1127 458.5" stroke="#ffa500" stroke-width="4.100"/>
<path d="M520 458.5L535.5 458.5A16 16 0 0 1 551.5 474.5L551.5 474.5A16 16 0 0 0 567.5 490.5L783.5 490.5A24 24 0 0 1 807.5 514.5L807.5 800" stroke="#2e2204" stroke-width="6.300"/><path d="M520 458.5L535.5 458.5A16 16 0 0 1 551.5 474.5L551.5 474.5A16 16 0 0 0 567.5 490.5L783.5 490.5A24 24 0 0 1 807.5 514.5L807.5 800" stroke="#ffa500" stroke-width="4.100"/>
<path d="M270 522.5L335.5 522.5A24 24 0 0 1 359.5 546.5L359.5 658.5A24 24 0 0 1 335.5 682.5L328 682.5" stroke="#2e2204" stroke-width="6.300"/><path d="M270 522.5L335.5 522.5A24 24 0 0 1 359.5 546.5L359.5 658.5A24 24 0 0 1 335.5 682.5L328 682.5" stroke="#ffa500" stroke-width="4.100"/>
<path d="M488 618.5L415.5 618.5A24 24 0 0 0 391.5 642.5L391.5 800" stroke="#00003c" stroke-width="6.300"/><path d="M488 618.5L415.5 618.5A24 24 0 0 0 391.5 642.5L391.5 800" stroke="#0000ff" stroke-width="4.100"/>
<path d="M488 650.5L447.5 650.5A24 24 0 0 0 423.5 674.5L423.5 800" stroke="#00003c" stroke-width="6.300"/><path d="M488 650.5L447.5 650.5A24 24 0 0 0 423.5 674.5L423.5 800" stroke="#0000ff" stroke-width="4.100"/>
<path d="M488 682.5L479.5 682.5A24 24 0 0 0 455.5 706.5L455.5 722.5A24 24 0 0 0 479.5 746.5L1135.5 746.5A24 24 0 0 1 1159.5 770.5L1159.5 800" stroke="#00003c" stroke-width="6.300"/><path d="M488 682.5L479.5 682.5A24 24 0 0 0 455.5 706.5L455.5 722.5A24 24 0 0 0 479.5 746.5L1135.5 746.5A24 24 0 0 1 1159.5 770.5L1159.5 800" stroke="#0000ff" stroke-width="4.100"/>
<path d="M744 586.5L751.5 586.5A24 24 0 0 1 775.5 610.5L775.5 800" stroke="#00003c" stroke-width="6.300"/><path d="M744 586.5L751.5 586.5A24 24 0 0 1 775.5 610.5L775.5 800" stroke="#0000ff" stroke-width="4.100"/>
<path d="M904 618.5L895.5 618.5A24 24 0 0 0 871.5 642.5L871.5 690.5A24 24 0 0 0 895.5 714.5L1199.5 714.5A24 24 0 0 0 1223.5 690.5L1223.5 682.5" stroke="#2e2204" stroke-width="6.300"/><path d="M904 618.5L895.5 618.5A24 24 0 0 0 871.5 642.5L871.5 690.5A24 24 0 0 0 895.5 714.5L1199.5 714.5A24 24 0 0 0 1223.5 690.5L1223.5 682.5" stroke="#ffa500" stroke-width="4.100"/>
<path d="M1320 618.5L1279.5 618.5A24 24 0 0 0 1255.5 642.5L1255.5 800" stroke="#50004c" stroke-width="6.300"/><path d="M1320 618.5L1279.5 618.5A24 24 0 0 0 1255.5 642.5L1255.5 800" stroke="#ff00ff" stroke-width="4.100"/>
<path d="M1320 650.5L1247.5 650.5A24 24 0 0 0 1223.5 674.5L1223.5 754.5A24 24 0 0 0 1247.5 778.5L1288 778.5" stroke="#00003c" stroke-width="6.300"/><path d="M1320 650.5L1247.5 650.5A24 24 0 0 0 1223.5 674.5L1223.5 754.5A24 24 0 0 0 1247.5 778.5L1288 778.5" stroke="#0000ff" stroke-width="4.100"/>
<path d="M1255.5 760L1255.5 800" stroke="#50004c" stroke-width="6.300"/><path d="M1255.5 760L1255.5 800" stroke="#ff00ff" stroke-width="4.100"/>
</g>
<rect x="679.5" y="266.5" width="256.5" height="128" rx="9" fill="#fff8dc"/><path d="M679.5 310.5V275.5a9 9 0 0 1 9 -9H927.0a9 9 0 0 1 9 9V310.5z" fill="url(#hS)"/><path d="M679.5 310.5H936.0" stroke="#ff0000" stroke-width="2"/><rect x="679.5" y="266.5" width="256.5" height="128" rx="9" fill="none" stroke="#ff0000" stroke-width="2"/>

<rect x="673.5" y="324.5" width="12" height="12" fill="#fff" stroke="#ff0000" stroke-width="2"/><path d="M670.5 330.5H679.5" stroke="#00003c" stroke-width="6.100" fill="none"/><path d="M669.5 330.5H680.0" stroke="#0000ff" stroke-width="4.100" fill="none"/>
<rect x="673.5" y="356.5" width="12" height="12" fill="#fff" stroke="#ff0000" stroke-width="2"/><path d="M670.5 362.5H679.5" stroke="#2e2204" stroke-width="6.100" fill="none"/><path d="M669.5 362.5H680.0" stroke="#ffa500" stroke-width="4.100" fill="none"/>
<rect x="929.5" y="324.5" width="12" height="12" fill="#fff" stroke="#ff0000" stroke-width="2"/><path d="M944.5 330.5H935.5" stroke="#2e2204" stroke-width="6.100" fill="none"/><path d="M945.5 330.5H935.0" stroke="#ffa500" stroke-width="4.100" fill="none"/>
<use href="#ri" x="689.7" y="314.0"/><use href="#pu" x="689.5" y="348.5"/><use href="#pu" x="896.5" y="316.5"/>
<rect x="359.5" y="394.5" width="160" height="96" rx="9" fill="#b0c4de"/><path d="M359.5 438.5V403.5a9 9 0 0 1 9 -9H510.5a9 9 0 0 1 9 9V438.5z" fill="url(#hN)"/><path d="M359.5 438.5H519.5" stroke="#000" stroke-width="2"/><rect x="359.5" y="394.5" width="160" height="96" rx="9" fill="none" stroke="#000" stroke-width="2"/>

<rect x="353.5" y="452.5" width="12" height="12" fill="#fff" stroke="#000" stroke-width="2"/><path d="M350.5 458.5H359.5" stroke="#00003c" stroke-width="6.100" fill="none"/><path d="M349.5 458.5H360.0" stroke="#0000ff" stroke-width="4.100" fill="none"/>
<rect x="513.5" y="452.5" width="12" height="12" fill="#fff" stroke="#000" stroke-width="2"/><path d="M528.5 458.5H519.5" stroke="#00003c" stroke-width="6.100" fill="none"/><path d="M529.5 458.5H519.0" stroke="#0000ff" stroke-width="4.100" fill="none"/>
<use href="#ri" x="370.2" y="442.0"/><use href="#ri" x="480.2" y="442.0"/>
<rect x="1127.5" y="362.5" width="260" height="128" rx="9" fill="#b0c4de"/><path d="M1127.5 406.5V371.5a9 9 0 0 1 9 -9H1378.5a9 9 0 0 1 9 9V406.5z" fill="url(#hN)"/><path d="M1127.5 406.5H1387.5" stroke="#000" stroke-width="2"/><rect x="1127.5" y="362.5" width="260" height="128" rx="9" fill="none" stroke="#000" stroke-width="2"/>

<rect x="1121.5" y="420.5" width="12" height="12" fill="#fff" stroke="#000" stroke-width="2"/><path d="M1118.5 426.5H1127.5" stroke="#2e2204" stroke-width="6.100" fill="none"/><path d="M1117.5 426.5H1128.0" stroke="#ffa500" stroke-width="4.100" fill="none"/>
<rect x="1121.5" y="452.5" width="12" height="12" fill="#fff" stroke="#000" stroke-width="2"/><path d="M1118.5 458.5H1127.5" stroke="#2e2204" stroke-width="6.100" fill="none"/><path d="M1117.5 458.5H1128.0" stroke="#ffa500" stroke-width="4.100" fill="none"/>
<use href="#pu" x="1138" y="412.5"/><use href="#pu" x="1138" y="444.5"/>
<rect x="1311" y="414" width="1.500" height="22" fill="#ff00ff"/>
<rect x="487.5" y="522.5" width="256.5" height="192" rx="9" fill="#b0c4de"/><path d="M487.5 566.5V531.5a9 9 0 0 1 9 -9H735.0a9 9 0 0 1 9 9V566.5z" fill="url(#hN)"/><path d="M487.5 566.5H744.0" stroke="#000" stroke-width="2"/><rect x="487.5" y="522.5" width="256.5" height="192" rx="9" fill="none" stroke="#000" stroke-width="2"/>

<rect x="487.500" y="572.500" width="114.500" height="124" rx="9" fill="#87cefa" stroke="#000" stroke-width="2"/>
<rect x="481.5" y="612.5" width="12" height="12" fill="#fff" stroke="#000" stroke-width="2"/><path d="M478.5 618.5H487.5" stroke="#00003c" stroke-width="6.100" fill="none"/><path d="M477.5 618.5H488.0" stroke="#0000ff" stroke-width="4.100" fill="none"/><use href="#ri" x="497.7" y="602.0"/>
<rect x="481.5" y="644.5" width="12" height="12" fill="#fff" stroke="#000" stroke-width="2"/><path d="M478.5 650.5H487.5" stroke="#00003c" stroke-width="6.100" fill="none"/><path d="M477.5 650.5H488.0" stroke="#0000ff" stroke-width="4.100" fill="none"/><use href="#ri" x="497.7" y="634.0"/>
<rect x="481.5" y="676.5" width="12" height="12" fill="#fff" stroke="#000" stroke-width="2"/><path d="M478.5 682.5H487.5" stroke="#00003c" stroke-width="6.100" fill="none"/><path d="M477.5 682.5H488.0" stroke="#0000ff" stroke-width="4.100" fill="none"/><use href="#ri" x="497.7" y="666.0"/>
<rect x="737.5" y="580.5" width="12" height="12" fill="#fff" stroke="#000" stroke-width="2"/><path d="M752.5 586.5H743.5" stroke="#00003c" stroke-width="6.100" fill="none"/><path d="M753.5 586.5H743.0" stroke="#0000ff" stroke-width="4.100" fill="none"/><use href="#ri" x="703.7" y="570.0"/>
<rect x="903.5" y="554.5" width="225" height="128" rx="9" fill="#b0c4de"/><path d="M903.5 598.5V563.5a9 9 0 0 1 9 -9H1119.5a9 9 0 0 1 9 9V598.5z" fill="url(#hN)"/><path d="M903.5 598.5H1128.5" stroke="#000" stroke-width="2"/><rect x="903.5" y="554.5" width="225" height="128" rx="9" fill="none" stroke="#000" stroke-width="2"/>

<rect x="897.5" y="612.5" width="12" height="12" fill="#fff" stroke="#000" stroke-width="2"/><path d="M894.5 618.5H903.5" stroke="#2e2204" stroke-width="6.100" fill="none"/><path d="M893.5 618.5H904.0" stroke="#ffa500" stroke-width="4.100" fill="none"/>
<rect x="897.5" y="644.5" width="12" height="12" fill="#fff" stroke="#000" stroke-width="2"/>
<rect x="1121.5" y="612.5" width="12" height="12" fill="#fff" stroke="#000" stroke-width="2"/><path d="M1136.5 618.5H1127.5" stroke="#2e2204" stroke-width="6.100" fill="none"/><path d="M1137.5 618.5H1127.0" stroke="#ffa500" stroke-width="4.100" fill="none"/>
<use href="#pu" x="914" y="604.5"/><use href="#pu" x="914" y="636.5"/><use href="#pu" x="1088.5" y="604.5"/>
<rect x="200.5" y="618.5" width="128" height="128" rx="9" fill="#b0c4de"/><path d="M200.5 662.5V627.5a9 9 0 0 1 9 -9H319.5a9 9 0 0 1 9 9V662.5z" fill="url(#hN)"/><path d="M200.5 662.5H328.5" stroke="#000" stroke-width="2"/><rect x="200.5" y="618.5" width="128" height="128" rx="9" fill="none" stroke="#000" stroke-width="2"/>

<rect x="321.5" y="676.5" width="12" height="12" fill="#fff" stroke="#000" stroke-width="2"/><path d="M336.5 682.5H327.5" stroke="#2e2204" stroke-width="6.100" fill="none"/><path d="M337.5 682.5H327.0" stroke="#ffa500" stroke-width="4.100" fill="none"/>
<use href="#pu" x="288.5" y="668.5"/>
<rect x="200.5" y="778.5" width="128" height="128" rx="9" fill="#b0c4de"/><path d="M200.5 822.5V787.5a9 9 0 0 1 9 -9H319.5a9 9 0 0 1 9 9V822.5z" fill="url(#hN)"/><path d="M200.5 822.5H328.5" stroke="#000" stroke-width="2"/><rect x="200.5" y="778.5" width="128" height="128" rx="9" fill="none" stroke="#000" stroke-width="2"/>

<rect x="1287.5" y="714.5" width="128" height="128" rx="9" fill="#b0c4de"/><path d="M1287.5 758.5V723.5a9 9 0 0 1 9 -9H1406.5a9 9 0 0 1 9 9V758.5z" fill="url(#hN)"/><path d="M1287.5 758.5H1415.5" stroke="#000" stroke-width="2"/><rect x="1287.5" y="714.5" width="128" height="128" rx="9" fill="none" stroke="#000" stroke-width="2"/>

<rect x="1281.5" y="772.5" width="12" height="12" fill="#fff" stroke="#000" stroke-width="2"/><path d="M1278.5 778.5H1287.5" stroke="#00003c" stroke-width="6.100" fill="none"/><path d="M1277.5 778.5H1288.0" stroke="#0000ff" stroke-width="4.100" fill="none"/>
<use href="#ri" x="1297.7" y="762.0"/><g transform="translate(687.500 271) scale(.93 1)"><use href="#ri"/></g>
<path d="M685 299.500H690V280H697.500V299.500H704.500V280H711.500V299.500H717" fill="none" stroke="#0a0a50" stroke-width="2.400"/>
<path d="M700.500 292c-3-9 2-14 9-13.500v-6.200l7.500 7.700-7.200 6.600v-4.600c-4-.5-7 2-6.300 8.500z" fill="#a6e06c" stroke="#5aa828" stroke-width=".8"/>
<g transform="translate(368.500 399.500) scale(.93 1)"><use href="#ri" /></g>
<rect x="369" y="404" width="25" height="22" fill="url(#rI)" opacity=".0"/>
<text x="366" y="423.700" font-family="Liberation Sans" font-size="21.500" textLength="30" lengthAdjust="spacingAndGlyphs" font-weight="bold" fill="#fff" stroke="#fff" stroke-width="1.500" opacity=".35">NOT</text>
<text x="366" y="423.700" font-family="Liberation Sans" font-size="21.500" textLength="30" lengthAdjust="spacingAndGlyphs" font-weight="bold" fill="url(#nt)">NOT</text>
<rect x="1134.500" y="378.500" width="30" height="14" fill="#333" opacity=".35"/><rect x="1133.500" y="376.500" width="30" height="14" fill="url(#cn)"/><g fill="#d8dcf8" font-family="Liberation Sans" font-size="9.500"><text x="1136" y="387.500">4</text><text x="1146" y="387.500">5</text><text x="1156" y="387.500">9</text></g><path d="M1143.500 377v13M1153.500 377v13" stroke="#6060a0" stroke-width=".8"/>
<g transform="translate(492.500 527.500) scale(.93 1)"><use href="#ri"/></g>
<path d="M508.800 533l5.600 6.200h-3.400v5.300c6 1 10.500 5 11.500 10.300h-5.200c-1-3.300-3.300-5.300-6.300-6v6h-4.400v-6c-3 .7-5.300 2.700-6.300 6h-5.200c1-5.300 5.500-9.300 11.500-10.300v-5.300h-3.400z" fill="#86d848" stroke="#58a828" stroke-width=".9"/>
<path d="M912 564.500h6.500l1.500 13h10.300v10.500h-16.300z" fill="url(#ch)"/><rect x="915" y="587.500" width="2.200" height="3" fill="#1070b0"/><rect x="925.500" y="587.500" width="2.200" height="3" fill="#1070b0"/>
<circle cx="922.300" cy="565" r="3.200" fill="#f0a890" stroke="#c8b0b0" stroke-width=".6"/><path d="M921 568.500h3v7.500h5v2.200h-8z" fill="#f07848"/>
<rect x="927.500" y="561" width="9.500" height="18.500" fill="#f4d8d0" opacity=".7" stroke="#c89090" stroke-width=".8"/><path d="M929 563.500h6.500l-3.250 6.500zM929 578h6.500l-3.250-7z" fill="#f0f4fa" stroke="#c0c8d8" stroke-width=".4"/><path d="M930 564.500h4.500l-2.250 4zM929.800 577.500h5l-2.500-3.500z" fill="#f0b050"/><rect x="931" y="580" width="3.800" height="9" fill="#e82838"/><rect x="930.500" y="588.800" width="6.500" height="2" fill="#e06a10"/><rect x="927" y="579" width="10.500" height="1.800" fill="#a84038"/>
<text x="1293" y="751" font-family="Liberation Sans" font-size="22" font-weight="bold" fill="#b01818">1</text><path d="M1303 727l9-3v24l-9 2z" fill="#e8f0fa" stroke="#a0b0c8" stroke-width=".6"/><path d="M1306 750q4 2 8 0" stroke="#2a8ab8" stroke-width="2" fill="none"/><circle cx="1310" cy="742" r="2" fill="#e03020"/><circle cx="1310" cy="733" r="1.800" fill="#50a8e0"/>
<path d="M291 791l6-5 3 3-5 4zM311 791l6-6 4 3-6 5z" fill="#c0ccd8" opacity=".9"/>
<g font-family="Liberation Sans" font-size="19.500" fill="#000"><text x="726.5" y="296.3" textLength="176" lengthAdjust="spacingAndGlyphs" stroke="#000" stroke-width=".75" stroke-linejoin="round">PulseGenerator1</text>
<text x="722.5" y="336.1" textLength="80.3" lengthAdjust="spacingAndGlyphs">Enabled</text>
<text x="722.5" y="368.1" textLength="58" lengthAdjust="spacingAndGlyphs">Reset</text>
<text x="856.5" y="336.1" textLength="35.7" lengthAdjust="spacingAndGlyphs">Out</text>
<text x="407.0" y="424.3" textLength="92.2" lengthAdjust="spacingAndGlyphs" stroke="#000" stroke-width=".75" stroke-linejoin="round">Inverter1</text>
<text x="402.5" y="464.2" textLength="19" lengthAdjust="spacingAndGlyphs">In</text>
<text x="440.5" y="464.2" textLength="36" lengthAdjust="spacingAndGlyphs">Out</text>
<text x="525.8" y="450.4" textLength="14" lengthAdjust="spacingAndGlyphs">4</text>
<text x="1174.7" y="391.6" textLength="96.8" lengthAdjust="spacingAndGlyphs" stroke="#000" stroke-width=".75" stroke-linejoin="round">Counter2</text>
<text x="1170.5" y="432.3" textLength="19" lengthAdjust="spacingAndGlyphs">In</text>
<text x="1272.7" y="432.3" textLength="35.5" lengthAdjust="spacingAndGlyphs">Out</text>
<text x="1170.5" y="464.1" textLength="57.7" lengthAdjust="spacingAndGlyphs">Reset</text>
<text x="534.5" y="552.4" textLength="204" lengthAdjust="spacingAndGlyphs" stroke="#000" stroke-width=".75" stroke-linejoin="round">DigitalMultiMerger1</text>
<text x="498.3" y="593.8" textLength="19.2" lengthAdjust="spacingAndGlyphs">In</text>
<text x="530.1" y="624.1" textLength="62.4" lengthAdjust="spacingAndGlyphs">Pin [0]</text>
<text x="530.1" y="656.1" textLength="62.4" lengthAdjust="spacingAndGlyphs">Pin [1]</text>
<text x="530.1" y="688.1" textLength="62.4" lengthAdjust="spacingAndGlyphs">Pin [2]</text>
<text x="664.1" y="591.5" textLength="36" lengthAdjust="spacingAndGlyphs">Out</text>
<text x="950.7" y="584.3" textLength="74.2" lengthAdjust="spacingAndGlyphs" stroke="#000" stroke-width=".75" stroke-linejoin="round">Delay2</text>
<text x="946.4" y="623.3" textLength="47.1" lengthAdjust="spacingAndGlyphs">Start</text>
<text x="946.4" y="655.5" textLength="57.9" lengthAdjust="spacingAndGlyphs">Reset</text>
<text x="1048.2" y="623.3" textLength="35.8" lengthAdjust="spacingAndGlyphs">Out</text>
<text x="1133.9" y="610.2" textLength="13.8" lengthAdjust="spacingAndGlyphs">2</text>
<text x="247.5" y="687.8" textLength="36" lengthAdjust="spacingAndGlyphs">Out</text>
<text x="333.5" y="674.1" textLength="14.8" lengthAdjust="spacingAndGlyphs">2</text></g>
<ellipse cx="807.500" cy="347.400" rx="187" ry="122.900" fill="none" stroke="#ed1c24" stroke-width="5"/>
<ellipse cx="1016.700" cy="622.500" rx="155.700" ry="87.800" fill="none" stroke="#ed1c24" stroke-width="5"/>
</svg>
<!-- RIGHT -->
<div id="right" class="a" style="left:1338px;top:70px;width:262px;height:790px;background:#f0f0f0">
<div class="a" style="left:0;top:0;width:262px;height:27px;background:#faf0e6"></div>
<div class="a" style="left:2.500px;top:2.500px;width:98px;height:21px;background:#fff;border:1px solid #7a7a7a"></div>
<div class="a" style="left:127.500px;top:2.500px;width:21px;height:20px;background:#cce4f7;border:1px solid #99c9ef"></div>
<svg class="a" style="left:0;top:0" width="262" height="420" viewBox="1338 70 262 420">
<defs>
<linearGradient id="bt" x1="0" y1="0" x2="0" y2="1"><stop offset="0" stop-color="#c2c2c2"/><stop offset=".5" stop-color="#a4a4a4"/><stop offset=".5" stop-color="#7c7c7c"/><stop offset="1" stop-color="#8e8e8e"/></linearGradient>
<linearGradient id="btd" x1="0" y1="0" x2="0" y2="1"><stop offset="0" stop-color="#e4e4e4"/><stop offset=".5" stop-color="#dadada"/><stop offset=".5" stop-color="#cecece"/><stop offset="1" stop-color="#d4d4d4"/></linearGradient>
<radialGradient id="shine" cx=".35" cy=".3" r=".8"><stop offset="0" stop-color="#fff" stop-opacity=".7"/><stop offset=".6" stop-color="#fff" stop-opacity="0"/></radialGradient>
<linearGradient id="gF3" x1="0" y1="0" x2="0" y2="1"><stop offset="0" stop-color="#fbeab0"/><stop offset="1" stop-color="#efc457"/></linearGradient>
<filter id="sh" x="-10%" y="-10%" width="130%" height="130%"><feGaussianBlur stdDeviation="1"/></filter>
</defs>
<!-- toolbar icons -->
<path d="M1446 77c0-2 12-2 12 0l-4 6v7l-4-2v-5z" fill="#bfe4f7" stroke="#2a7ab8" stroke-width=".9"/><ellipse cx="1452" cy="77" rx="6" ry="2" fill="#e8f6ff" stroke="#2a7ab8" stroke-width=".8"/>
<g transform="translate(-1 -1)"><path d="M1470 89c0-3 3-4 5-5l1-6c1-3 4-3 5-1l-1.500 1.500 2.500 5.500c2 1 4 2 4 5-4 2-12 2-16 0z" fill="#4a4098" stroke="#221a58" stroke-width=".7"/><path d="M1472 88c4 1.500 9 1.500 13 0" stroke="#8a7ad0" stroke-width="1.200" fill="none"/><circle cx="1477" cy="82" r=".7" fill="#fff"/><circle cx="1480" cy="85" r=".7" fill="#fff"/><circle cx="1479" cy="79" r=".6" fill="#fff"/></g>
<path d="M1488 82h6l-3 3z" fill="#000"/>
<path d="M1501 76h5l1.500 1.500h8V89h-14.500z" fill="url(#gF3)" stroke="#cf9a2c" stroke-width=".7"/><circle cx="1511" cy="83" r="3" fill="#fff6c0" stroke="#c0a020" stroke-width=".7"/><rect x="1509.500" y="86" width="3" height="2.500" fill="#909090"/>
<g><path d="M1525 76h4l1 1h4v6h-9z" fill="url(#gF3)" stroke="#cf9a2c" stroke-width=".6"/><path d="M1531 82h4l1 1h4v6h-9z" fill="url(#gF3)" stroke="#cf9a2c" stroke-width=".6"/><rect x="1529.500" y="81.500" width="8" height="8" rx="1" fill="#4aa0e8" stroke="#1a5ab0"/><path d="M1531.500 85.500h4M1533.500 83.500v4" stroke="#fff" stroke-width="1.200"/></g>
<g><path d="M1549 76h4l1 1h4v6h-9z" fill="url(#gF3)" stroke="#cf9a2c" stroke-width=".6"/><path d="M1555 82h4l1 1h4v6h-9z" fill="url(#gF3)" stroke="#cf9a2c" stroke-width=".6"/><rect x="1553.500" y="81.500" width="8" height="8" rx="1" fill="#4aa0e8" stroke="#1a5ab0"/><path d="M1555.500 85.500h4" stroke="#fff" stroke-width="1.200"/></g>
<g transform="translate(1578 76)"><path d="M1 0.500L7 7" stroke="#555" stroke-width="1.300"/><path d="M7 7l5.500 6" stroke="#e02828" stroke-width="3.400" stroke-linecap="round"/><path d="M8.500 9.500l2-2M10.500 11.500l2-2" stroke="#fff" stroke-width=".8"/><path d="M1.500 13L7.500 6.500" stroke="#2a62d0" stroke-width="3.400" stroke-linecap="round"/><path d="M7 7l3.500-3.500" stroke="#b8bcc4" stroke-width="2.600"/><circle cx="11.500" cy="3" r="2.800" fill="#c8ccd4" stroke="#80848c" stroke-width=".7"/><path d="M11.500 3l3-3" stroke="#faf0e6" stroke-width="2"/></g>
<g transform="translate(1341.5 100.5)"><rect x="2" y="2.500" width="37" height="37" rx="7" fill="#000" opacity=".3" filter="url(#sh)"/><rect x="1.300" y="1.300" width="35.400" height="35.400" rx="6" fill="url(#bt)" stroke="#000" stroke-width="2.600"/><circle cx="17" cy="19" r="14" fill="#e8e8ec" stroke="#c0c0c8" stroke-width="1.500"/><path d="M10 8l16 4-3 20-15-6z" fill="#fff"/><g fill="#d8206a"><path d="M10 8l4 1-1 5-4-1z"/><path d="M18 10l4 1-1 5-4-1z"/><path d="M13 14l4 1-1 5-4-1z"/><path d="M21 16l4 1-1 5-4-1z"/><path d="M8 19l4 1-1 5-4-1z"/><path d="M16 21l4 1-1 5-4-1z"/><path d="M12 26l4 1-1 4-4-1z"/><path d="M20 27l4 1-1 5-4-1z"/></g><path d="M12 5L3 33" stroke="#b8862a" stroke-width="1.500"/></g>
<g transform="translate(1385.5 100.5)"><rect x="2" y="2.500" width="37" height="37" rx="7" fill="#000" opacity=".3" filter="url(#sh)"/><rect x="1.300" y="1.300" width="35.400" height="35.400" rx="6" fill="url(#bt)" stroke="#000" stroke-width="2.600"/><path d="M14 3l5 8 5-5 5 4 4-3v22l-19-4z" fill="#e04a4a"/><path d="M14 20l4-5 4 5 4-6 4 6 3-4v13l-19-4z" fill="#f0d020"/><path d="M2 22l18 3 8 8-16-2z" fill="#2040e0"/><path d="M8 24l14 2 6 6-8-1z" fill="#20c040"/></g>
<g transform="translate(1429.5 100.5)"><rect x="2" y="2.500" width="37" height="37" rx="7" fill="#000" opacity=".3" filter="url(#sh)"/><rect x="1.300" y="1.300" width="35.400" height="35.400" rx="6" fill="url(#bt)" stroke="#000" stroke-width="2.600"/><path d="M7 4h24v22l-6 8H7z" fill="#e4e4e4" stroke="#a8a8a8"/><path d="M25 34v-8h6z" fill="#fff" stroke="#a8a8a8" stroke-width=".7"/><g font-family="Liberation Mono" font-size="6.500" font-weight="bold" fill="#333"><text x="8" y="11">010110</text><text x="8" y="17.500">110011</text><text x="8" y="24">101000</text><text x="8" y="30.500">0001</text></g></g>
<g transform="translate(1473.5 100.5)"><rect x="2" y="2.500" width="37" height="37" rx="7" fill="#000" opacity=".3" filter="url(#sh)"/><rect x="1.300" y="1.300" width="35.400" height="35.400" rx="6" fill="url(#bt)" stroke="#000" stroke-width="2.600"/><circle cx="13" cy="20" r="8" fill="#c8c8d4" stroke="#8e8e9c"/><path d="M12 14c2-6 14-6 17 0v9h-6v-5c-2-2-6-2-8 0z" fill="#d4d4de" stroke="#8e8e9c" stroke-width=".8"/><path d="M12 6h14M19 6v5" stroke="#e8b830" stroke-width="2.500"/><path d="M26 26c2 3 3 5 0 7-3-2-2-4 0-7z" fill="#2a7ae8"/></g>
<g transform="translate(1517.5 100.5)"><rect x="2" y="2.500" width="37" height="37" rx="7" fill="#000" opacity=".3" filter="url(#sh)"/><rect x="1.300" y="1.300" width="35.400" height="35.400" rx="6" fill="url(#bt)" stroke="#000" stroke-width="2.600"/><path d="M8 14l11-6 11 6v8l-11 6-11-6z" fill="none" stroke="#2a8ad8" stroke-width="1.800"/><path d="M8 14l11 6 11-6M19 20v8" fill="none" stroke="#2a8ad8" stroke-width="1.400"/><text x="19" y="17" font-size="8" font-family="Liberation Sans" font-weight="bold" fill="#333" text-anchor="middle">5</text><text x="3" y="35" font-size="7" font-family="Liberation Sans" font-weight="bold" fill="#111" textLength="32" lengthAdjust="spacingAndGlyphs"><tspan fill="#1a6ab8">M5</tspan>STACK</text></g>
<g transform="translate(1341.5 144.5)"><rect x="2" y="2.500" width="37" height="37" rx="7" fill="#000" opacity=".3" filter="url(#sh)"/><rect x="1.300" y="1.300" width="35.400" height="35.400" rx="6" fill="url(#bt)" stroke="#000" stroke-width="2.600"/><path d="M12 3c-8 10-8 20 2 24-6-8-5-16-2-24zM26 3c8 10 8 20-2 24 6-8 5-16 2-24z" fill="#a8d838"/><path d="M3 12c0 10 6 16 16 16C11 26 6 20 3 12zM35 12c0 10-6 16-16 16 8-2 13-8 16-16z" fill="#88c828"/><circle cx="19" cy="18" r="2" fill="none" stroke="#18903a" stroke-width="1.200"/><circle cx="15" cy="22" r="1.600" fill="none" stroke="#18903a" stroke-width="1.200"/><circle cx="23" cy="22" r="1.600" fill="none" stroke="#18903a" stroke-width="1.200"/><text x="19" y="33.500" font-size="10.500" font-family="Liberation Sans" font-weight="bold" fill="#18903a" text-anchor="middle" textLength="30" lengthAdjust="spacingAndGlyphs">Grove</text></g>
<g transform="translate(1385.5 144.5)"><rect x="2" y="2.500" width="37" height="37" rx="7" fill="#000" opacity=".3" filter="url(#sh)"/><rect x="1.300" y="1.300" width="35.400" height="35.400" rx="6" fill="url(#bt)" stroke="#000" stroke-width="2.600"/><path d="M6 5h14l5 5v22H6z" fill="#f8eed0" stroke="#c8b890" stroke-width=".8"/><path d="M9 10h9M9 15h9M9 20h6M9 25h6" stroke="#80806a" stroke-width="1"/><path d="M14 17h16l-6 7v9l-4-2v-7z" fill="#d0d0d4" stroke="#8a8a90" stroke-width=".8"/><ellipse cx="22" cy="17" rx="8" ry="2.500" fill="#ececf0" stroke="#8a8a90" stroke-width=".8"/></g>
<g transform="translate(1429.5 144.5)"><rect x="2" y="2.500" width="37" height="37" rx="7" fill="#000" opacity=".3" filter="url(#sh)"/><rect x="1.300" y="1.300" width="35.400" height="35.400" rx="6" fill="url(#bt)" stroke="#000" stroke-width="2.600"/><g transform="translate(19 19)"><path d="M0 0L0-15A15 15 0 0 1 10.600-10.600z" fill="#f0e040"/><path d="M0 0L10.600-10.600A15 15 0 0 1 15 0z" fill="#f8a030"/><path d="M0 0L15 0A15 15 0 0 1 10.600 10.600z" fill="#f04040"/><path d="M0 0L10.600 10.600A15 15 0 0 1 0 15z" fill="#e040c0"/><path d="M0 0L0 15A15 15 0 0 1-10.600 10.600z" fill="#8040e0"/><path d="M0 0L-10.600 10.600A15 15 0 0 1-15 0z" fill="#3070f0"/><path d="M0 0L-15 0A15 15 0 0 1-10.600-10.600z" fill="#30c0d0"/><path d="M0 0L-10.600-10.600A15 15 0 0 1 0-15z" fill="#50d050"/><circle r="15" fill="url(#shine)"/></g></g>
<g transform="translate(1473.5 144.5)"><rect x="2" y="2.500" width="37" height="37" rx="7" fill="#000" opacity=".3" filter="url(#sh)"/><rect x="1.300" y="1.300" width="35.400" height="35.400" rx="6" fill="url(#bt)" stroke="#000" stroke-width="2.600"/><path d="M4 18l22-8 8 5-22 9z" fill="#2a9a2a" stroke="#106010" stroke-width=".8"/><path d="M8 18l5-2 3 2-5 2zM15 15.500l5-2 3 2-5 2zM22 13l5-2 3 2-5 2z" fill="#222"/><path d="M12 24l22-9v2l-22 9z" fill="#d8c040"/></g>
<g transform="translate(1517.5 144.5)"><rect x="2" y="2.500" width="37" height="37" rx="7" fill="#000" opacity=".3" filter="url(#sh)"/><rect x="1.300" y="1.300" width="35.400" height="35.400" rx="6" fill="url(#bt)" stroke="#000" stroke-width="2.600"/><path d="M8 6l14-2v28l-14 2z" fill="#c8c8f0" stroke="#9090c0" stroke-width=".8"/><path d="M22 4l6 1v26l-6 1z" fill="#e4e4fa" stroke="#9090c0" stroke-width=".8"/><circle cx="14" cy="12" r="2.500" fill="#3090f0"/><circle cx="14" cy="24" r="2.500" fill="#e03030"/><rect x="22" y="8" width="5" height="16" fill="#b8b8d8"/></g>
<g transform="translate(1341.5 188.5)"><rect x="2" y="2.500" width="37" height="37" rx="7" fill="#000" opacity=".3" filter="url(#sh)"/><rect x="1.300" y="1.300" width="35.400" height="35.400" rx="6" fill="url(#bt)" stroke="#000" stroke-width="2.600"/><rect x="6" y="4" width="26" height="28" fill="#fff" stroke="#3080d0" stroke-width="1"/><rect x="9" y="7" width="20" height="18" fill="#a8dcf8"/><rect x="9" y="20" width="20" height="5" fill="#70b838"/><circle cx="14" cy="12" r="2.800" fill="#f8c030"/><path d="M23 11l4 8h-8z" fill="#409030"/><rect x="22.200" y="18" width="1.600" height="4" fill="#805020"/></g>
<g transform="translate(1385.5 188.5)"><rect x="2" y="2.500" width="37" height="37" rx="7" fill="#000" opacity=".3" filter="url(#sh)"/><rect x="1.300" y="1.300" width="35.400" height="35.400" rx="6" fill="url(#bt)" stroke="#000" stroke-width="2.600"/><path d="M5 14h5l9-9v28l-9-9H5z" fill="#c4c4c8" stroke="#8a8a90" stroke-width=".8"/><ellipse cx="17" cy="19" rx="4" ry="13" fill="#dcdce0" stroke="#9a9aa0" stroke-width=".8"/><circle cx="15" cy="19" r="2.500" fill="#a0a0a8"/><path d="M25 12c3 4 3 10 0 14M29 9c4 6 4 14 0 20" fill="none" stroke="#7a9ac0" stroke-width="1" opacity=".6"/></g>
<g transform="translate(1429.5 188.5)"><rect x="2" y="2.500" width="37" height="37" rx="7" fill="#000" opacity=".3" filter="url(#sh)"/><rect x="1.300" y="1.300" width="35.400" height="35.400" rx="6" fill="url(#bt)" stroke="#000" stroke-width="2.600"/><path d="M8 8h10M13 3v10" stroke="#30c040" stroke-width="3.500"/><g font-family="Liberation Sans" font-weight="bold" font-size="21"><text x="2" y="32" fill="#a81818" textLength="10" lengthAdjust="spacingAndGlyphs">1</text><text x="12" y="33" fill="#2a86b4" textLength="10" lengthAdjust="spacingAndGlyphs">2</text><text x="23" y="33" fill="#68a828" textLength="11" lengthAdjust="spacingAndGlyphs">3</text></g></g>
<g transform="translate(1473.5 188.5)"><rect x="2" y="2.500" width="37" height="37" rx="7" fill="#000" opacity=".3" filter="url(#sh)"/><rect x="1.300" y="1.300" width="35.400" height="35.400" rx="6" fill="url(#bt)" stroke="#000" stroke-width="2.600"/><path d="M19 2l14 8v17l-14 9-14-9V10z" fill="#e020c8"/><path d="M19 2l14 8-14 8-14-8z" fill="#f060e0"/><path d="M19 18v18l-14-9V10z" fill="#c010b0"/><text x="19" y="28" font-size="20" font-family="Liberation Sans" font-weight="bold" fill="#10109a" text-anchor="middle">H</text></g>
<g transform="translate(1517.5 188.5)"><rect x="2" y="2.500" width="37" height="37" rx="7" fill="#000" opacity=".3" filter="url(#sh)"/><rect x="1.300" y="1.300" width="35.400" height="35.400" rx="6" fill="url(#bt)" stroke="#000" stroke-width="2.600"/><rect x="2" y="4" width="20" height="22" fill="#f4f4f4" stroke="#9a9a9a" stroke-width=".6"/><rect x="2" y="4" width="20" height="6" fill="#3a8ad8"/><text x="2" y="25" font-size="15" font-family="Liberation Sans" font-weight="bold" fill="#111">1</text><circle cx="24" cy="23" r="10.500" fill="#f0a020"/><circle cx="24" cy="23" r="8" fill="#e8f4fc"/><circle cx="16" cy="10" r="3.500" fill="#c8c8d0"/><circle cx="31" cy="10" r="3.500" fill="#c8c8d0"/><path d="M24 23v-7M24 23l-4 4" stroke="#e02020" stroke-width="1.500"/></g>
<g transform="translate(1341.5 232.5)"><rect x="2" y="2.500" width="37" height="37" rx="7" fill="#000" opacity=".3" filter="url(#sh)"/><rect x="1.300" y="1.300" width="35.400" height="35.400" rx="6" fill="url(#bt)" stroke="#000" stroke-width="2.600"/><path d="M5 30l14 5 14-6-14-5z" fill="#c02020"/><path d="M9 14l12 4v12l-12-4z" fill="#d0d8e8" stroke="#8090a8" stroke-width=".6"/><path d="M21 18l9-3v11l-9 4z" fill="#a8b4cc" stroke="#8090a8" stroke-width=".6"/><path d="M9 14l4-6 4 7 4-6 4 7" fill="#e8ecf4" stroke="#8090a8" stroke-width=".6"/><rect x="11" y="20" width="3" height="3" fill="#e8c020"/><rect x="16" y="22" width="3" height="3" fill="#30a030"/></g>
<g transform="translate(1385.5 232.5)"><rect x="2" y="2.500" width="37" height="37" rx="7" fill="#000" opacity=".3" filter="url(#sh)"/><rect x="1.300" y="1.300" width="35.400" height="35.400" rx="6" fill="url(#bt)" stroke="#000" stroke-width="2.600"/><path d="M5 12l12-4 14 3-12 5z" fill="#f8b040"/><path d="M5 12v8l14 5v-9z" fill="#f09020"/><path d="M19 16l12-5v8l-12 6z" fill="#e07010"/><path d="M14 20l16 4v-4l6 8-10 5v-4l-14-4z" fill="#e84020" stroke="#a02010" stroke-width=".5"/></g>
<g transform="translate(1429.5 232.5)"><rect x="2" y="2.500" width="37" height="37" rx="7" fill="#000" opacity=".3" filter="url(#sh)"/><rect x="1.300" y="1.300" width="35.400" height="35.400" rx="6" fill="url(#bt)" stroke="#000" stroke-width="2.600"/><ellipse cx="24" cy="21" rx="8" ry="9" fill="#8a9ab8" stroke="#4a5a78" stroke-width=".8" transform="rotate(-25 24 21)"/><path d="M8 10l14 20 9-6-14-19z" fill="#a8b8d4" stroke="#4a5a78" stroke-width=".8"/><ellipse cx="12" cy="8" rx="5" ry="3.500" fill="#c8d4e8" stroke="#4a5a78" stroke-width=".8" transform="rotate(-25 12 8)"/><circle cx="27" cy="26" r="2" fill="#222"/><path d="M27 26l6 5" stroke="#555" stroke-width="2"/></g>
<g transform="translate(1473.5 232.5)"><rect x="2" y="2.500" width="37" height="37" rx="7" fill="#000" opacity=".3" filter="url(#sh)"/><rect x="1.300" y="1.300" width="35.400" height="35.400" rx="6" fill="url(#bt)" stroke="#000" stroke-width="2.600"/><path d="M7 4l22 3q3 .5 3 3v19q0 3-3 2.500L7 28q-3-.5-3-3V6q0-2.500 3-2z" fill="#e63a22"/><path d="M9 6l20 3q2 .3 2 2v8L6 14V8q0-2.400 3-2z" fill="#fff" opacity=".2"/><ellipse cx="18" cy="17.500" rx="8" ry="9" fill="none" stroke="#fff" stroke-width="2"/><path d="M18 11v12" stroke="#fff" stroke-width="2.600"/></g>
<g transform="translate(1517.5 232.5)"><rect x="2" y="2.500" width="37" height="37" rx="7" fill="#000" opacity=".3" filter="url(#sh)"/><rect x="1.300" y="1.300" width="35.400" height="35.400" rx="6" fill="url(#bt)" stroke="#000" stroke-width="2.600"/><text x="2" y="28" font-size="25" font-family="Liberation Sans" fill="#e87820" textLength="14" lengthAdjust="spacingAndGlyphs">A</text><text x="15" y="28" font-size="20" font-family="Liberation Sans" fill="#4a8ab0" textLength="11" lengthAdjust="spacingAndGlyphs">B</text><text x="26" y="28" font-size="19" font-family="Liberation Sans" fill="#c83020" textLength="9" lengthAdjust="spacingAndGlyphs">c</text></g>
<g transform="translate(1341.5 276.5)"><rect x="2" y="2.500" width="37" height="37" rx="7" fill="#000" opacity=".3" filter="url(#sh)"/><rect x="1.300" y="1.300" width="35.400" height="35.400" rx="6" fill="url(#bt)" stroke="#000" stroke-width="2.600"/><path d="M2 11l8-6v4h9v5h-9v4z" fill="#e86040"/><path d="M36 25l-8-6v4h-9v5h9v4z" fill="#88c030"/><text x="22" y="14" font-size="12" font-family="Liberation Sans" font-weight="bold" fill="#e8a020">$</text><text x="3" y="31" font-size="13" font-family="Liberation Sans" font-weight="bold" fill="#e8a020">€</text></g>
<g transform="translate(1385.5 276.5)"><rect x="2" y="2.500" width="37" height="37" rx="7" fill="#000" opacity=".3" filter="url(#sh)"/><rect x="1.300" y="1.300" width="35.400" height="35.400" rx="6" fill="url(#bt)" stroke="#000" stroke-width="2.600"/><path d="M8 4l6 9 5-5 5 4 5-3v22l-21-6z" fill="#e04a4a"/><path d="M8 22l5-5 4 5 4-6 4 6 4-4v11l-21-6z" fill="#f0d020"/><path d="M29 9l4 2v22l-4-2z" fill="#c8c8c8"/></g>
<g transform="translate(1429.5 276.5)"><rect x="2" y="2.500" width="37" height="37" rx="7" fill="#000" opacity=".3" filter="url(#sh)"/><rect x="1.300" y="1.300" width="35.400" height="35.400" rx="6" fill="url(#bt)" stroke="#000" stroke-width="2.600"/><rect x="4" y="4" width="14" height="9" fill="#e8f0fc" stroke="#6080b0"/><rect x="6" y="14" width="10" height="3" fill="#d0d8e8" stroke="#6080b0" stroke-width=".6"/><rect x="19" y="21" width="14" height="9" fill="#e8f0fc" stroke="#6080b0"/><rect x="21" y="31" width="10" height="3" fill="#d0d8e8" stroke="#6080b0" stroke-width=".6"/><path d="M11 17v6h10" fill="none" stroke="#3080e0" stroke-width="1.500"/><path d="M6 26c3 0 5 2 5 5M6 30c1 0 2 1 2 2" fill="none" stroke="#6080a0" stroke-width="1"/></g>
<g transform="translate(1473.5 276.5)"><rect x="2" y="2.500" width="37" height="37" rx="7" fill="#000" opacity=".3" filter="url(#sh)"/><rect x="1.300" y="1.300" width="35.400" height="35.400" rx="6" fill="url(#bt)" stroke="#000" stroke-width="2.600"/><path d="M3 12l12-7 8 4-12 7zM17 20l12-7 8 4-12 7zM2 24l12-7 8 4-12 7zM15 32l12-7 8 4-12 7z" fill="#444" stroke="#222" stroke-width=".6"/><path d="M7 12l2-1M11 10l2-1M21 20l2-1M25 18l2-1M6 24l2-1M10 22l2-1M19 32l2-1M23 30l2-1" stroke="#ddd" stroke-width="1.500"/></g>
<g transform="translate(1517.5 276.5)"><rect x="2" y="2.500" width="37" height="37" rx="7" fill="#000" opacity=".3" filter="url(#sh)"/><rect x="1.300" y="1.300" width="35.400" height="35.400" rx="6" fill="url(#bt)" stroke="#000" stroke-width="2.600"/><path d="M6 14l13-6 13 6v14l-13 6-13-6z" fill="#b8b8b8" stroke="#888" stroke-width=".6"/><path d="M6 14l13 6 13-6M19 20v14" fill="none" stroke="#909090" stroke-width=".8"/><path d="M19 20l13-6v14l-13 6z" fill="#989898"/><rect x="9" y="18" width="6" height="6" fill="#f0e8c0"/><rect x="9" y="26" width="6" height="4" fill="#f0e8c0"/><ellipse cx="13" cy="11" rx="3" ry="1.500" fill="#d8d8d8"/><ellipse cx="24" cy="11" rx="3" ry="1.500" fill="#d8d8d8"/></g>
<g transform="translate(1341.5 320.5)"><rect x="2" y="2.500" width="37" height="37" rx="7" fill="#000" opacity=".3" filter="url(#sh)"/><rect x="1.300" y="1.300" width="35.400" height="35.400" rx="6" fill="url(#bt)" stroke="#000" stroke-width="2.600"/><rect x="1" y="1" width="36" height="36" rx="5" fill="#3a3a3a"/><g fill="#90e030" stroke="#407010" stroke-width=".7"><path d="M3 3h11l-3.500 3.500 6 6-4 4-6-6L3 14z"/><path d="M35 3v11l-3.500-3.500-6 6-4-4 6-6L24 3z"/><path d="M3 35v-11l3.500 3.500 6-6 4 4-6 6L14 35z"/><path d="M35 35h-11l3.500-3.500-6-6 4-4 6 6L35 24z"/></g><path d="M5 22l3-2M30 22l3-2" stroke="#f0b0b0" stroke-width="2"/></g>
<g transform="translate(1385.5 320.5)"><rect x="2" y="2.500" width="37" height="37" rx="7" fill="#000" opacity=".3" filter="url(#sh)"/><rect x="1.300" y="1.300" width="35.400" height="35.400" rx="6" fill="url(#bt)" stroke="#000" stroke-width="2.600"/><path d="M4 22l18-10 12 5-18 11z" fill="#e8ecf0" stroke="#707880" stroke-width=".8"/><path d="M14 12l10-5 10 4-10 6z" fill="#404850" stroke="#202428" stroke-width=".6"/><path d="M4 22v3l12 6v-3zM16 28v3l18-11v-3z" fill="#9098a0"/><path d="M8 21l14-8M11 23l14-8M14 25l14-8M10 18l10 5M14 16l10 5M18 14l10 5" stroke="#3a88d8" stroke-width="1.100"/></g>
<g transform="translate(1429.5 320.5)"><rect x="2" y="2.500" width="37" height="37" rx="7" fill="#000" opacity=".3" filter="url(#sh)"/><rect x="1.300" y="1.300" width="35.400" height="35.400" rx="6" fill="url(#bt)" stroke="#000" stroke-width="2.600"/><path d="M7 14c3-6 9-6 12-3 3-3 9-3 12 3 4 8 3 16-1 16-3 0-5-6-7-7h-8c-2 1-4 7-7 7-4 0-5-8-1-16z" fill="#8a8ae0" stroke="#5050a8" stroke-width=".8"/><path d="M11 13v7M7.500 16.500h7" stroke="#d8d8f8" stroke-width="2"/><circle cx="26" cy="14" r="1.800" fill="#e04040"/><circle cx="29" cy="18" r="1.800" fill="#40c040"/><circle cx="23" cy="18" r="1.800" fill="#e8d030"/></g>
<g transform="translate(1473.5 320.5)"><rect x="2" y="2.500" width="37" height="37" rx="7" fill="#000" opacity=".3" filter="url(#sh)"/><rect x="1.300" y="1.300" width="35.400" height="35.400" rx="6" fill="url(#bt)" stroke="#000" stroke-width="2.600"/><g font-family="Liberation Sans" font-weight="bold" font-size="24"><text x="1" y="29" fill="#a81818" textLength="11" lengthAdjust="spacingAndGlyphs">1</text><text x="12" y="29" fill="#2a86b4" textLength="11" lengthAdjust="spacingAndGlyphs">2</text><text x="24" y="29" fill="#68a828" textLength="11" lengthAdjust="spacingAndGlyphs">3</text></g></g>
<g transform="translate(1517.5 320.5)"><rect x="2" y="2.500" width="37" height="37" rx="7" fill="#000" opacity=".3" filter="url(#sh)"/><rect x="1.300" y="1.300" width="35.400" height="35.400" rx="6" fill="url(#bt)" stroke="#000" stroke-width="2.600"/><path d="M6 8l4-3 22 24-4 3z" fill="#b8b8c0" stroke="#787880" stroke-width=".7"/><path d="M6 8v10l4-2v-8zM28 32v-9l4-2v8z" fill="#a0a0a8" stroke="#787880" stroke-width=".6"/><circle cx="22" cy="17" r="5.500" fill="#f0a028" stroke="#a86810" stroke-width=".8"/><circle cx="22" cy="17" r="3" fill="#f8e8c8"/></g>
<g transform="translate(1341.5 364.5)"><rect x="1.200" y="1.200" width="35.600" height="35.600" rx="6" fill="url(#btd)" stroke="#9c9c9c" stroke-width="2"/><g opacity=".55"><circle cx="19" cy="22" r="11" fill="#a8c8e8"/><path d="M6 16c2-8 14-12 22-5l3-3v10h-10l3-3c-5-4-12-3-14 3z" fill="#b8d8a0"/></g></g>
<g transform="translate(1385.5 364.5)"><rect x="1.200" y="1.200" width="35.600" height="35.600" rx="6" fill="url(#btd)" stroke="#bcbcbc" stroke-width="2"/><g opacity=".55"><rect x="13" y="3" width="12" height="32" rx="3" fill="#d8d8d8"/><circle cx="19" cy="10" r="3.500" fill="#f0b0b0"/><circle cx="19" cy="19" r="3.500" fill="#f0e0a0"/><circle cx="19" cy="28" r="3.500" fill="#b0e0b0"/></g></g>
<g transform="translate(1429.5 364.5)"><rect x="1.200" y="1.200" width="35.600" height="35.600" rx="6" fill="url(#btd)" stroke="#bcbcbc" stroke-width="2"/><g opacity=".55"><path d="M6 24l18-18 8 6-18 20z" fill="#e8ecf0"/><path d="M4 12c3-4 8-5 12-3M34 26c-3 4-8 5-12 3" fill="none" stroke="#c0d8f0" stroke-width="2.500"/></g></g>
<g transform="translate(1473.5 364.5)"><rect x="1.200" y="1.200" width="35.600" height="35.600" rx="6" fill="url(#btd)" stroke="#bcbcbc" stroke-width="2"/><g opacity=".55"><path d="M8 30l8-14 6 8 8-16" fill="none" stroke="#d8e4d0" stroke-width="1.500"/><path d="M6 32h26M6 32V8" stroke="#e0d8d0" stroke-width="1.200"/><circle cx="16" cy="16" r="2" fill="#d0e4f0"/></g></g>
<g transform="translate(1517.5 364.5)"><rect x="1.200" y="1.200" width="35.600" height="35.600" rx="6" fill="url(#btd)" stroke="#bcbcbc" stroke-width="2"/><g opacity=".55"><circle cx="22" cy="17" r="11" fill="#b8d8e0"/><path d="M10 10l14 6-2 5-14-6z" fill="#c8ccd0"/><path d="M14 20l-4 14M14 20l4 14M14 20v12" stroke="#b0b4b8" stroke-width="1.800"/></g></g>
</svg>
</div>

<!-- TASKBAR -->
<div id="task" class="a" style="left:0;top:860px;width:1600px;height:40px;background:linear-gradient(90deg,#22303b 0%,#25323a 30%,#29363a 58%,#222f38 80%,#1b2732 100%)">
<div class="a" style="left:48px;top:0;width:288px;height:40px;background:#f2f2f2"></div>
<div class="a" style="left:632px;top:0;width:48px;height:40px;background:#3c4a55"></div>
<div class="a" style="left:440px;top:38px;width:31px;height:2px;background:#76b9ed"></div>
<div class="a" style="left:473px;top:38px;width:7px;height:2px;background:#5a8db5"></div>
<div class="a" style="left:587px;top:38px;width:41px;height:2px;background:#76b9ed"></div>
<div class="a" style="left:632px;top:38px;width:48px;height:2px;background:#76b9ed"></div>
<div class="a" style="left:1595px;top:0;width:1px;height:40px;background:#6a737b"></div>
<span class="t" style="left:88px;top:13.500px;font-size:14.500px;color:#3a3a3a">Type here to search</span>
<span class="t" style="left:1241px;top:13px;font-size:14.500px;color:#fff;letter-spacing:-.3px">48°F&nbsp; Cloudy</span>
<span class="t" style="left:1494px;top:5px;font-size:11.800px;color:#fff;letter-spacing:-.2px">8:49 PM</span>
<span class="t" style="left:1487px;top:23px;font-size:11.800px;color:#fff;letter-spacing:-.35px">12/14/2023</span>
<svg class="a" style="left:0;top:0" width="1600" height="40" viewBox="0 860 1600 40">
<defs>
<linearGradient id="edg" x1="0" y1="0" x2="1" y2="1"><stop offset="0" stop-color="#35c1f1"/><stop offset=".5" stop-color="#1b9de2"/><stop offset="1" stop-color="#0c59a4"/></linearGradient>
<linearGradient id="edg2" x1="0" y1="0" x2="1" y2="0"><stop offset="0" stop-color="#3bd36b"/><stop offset="1" stop-color="#8ae05a"/></linearGradient>
</defs>
<!-- start -->
<g fill="#fff"><path d="M16 873.800l6.800-1v7.200H16zM23.700 872.700l8.300-1.200v8.500h-8.300zM16 881h6.800v7.200l-6.800-1zM23.700 881H32v8.500l-8.300-1.200z"/></g>
<!-- search glass -->
<circle cx="71.500" cy="877.500" r="5.200" fill="none" stroke="#222" stroke-width="1.400"/><path d="M67.800 881.200l-6.500 6.500" stroke="#222" stroke-width="1.500"/>
<!-- owl on branch -->
<path d="M272 891c12-3 26-2 40-4 10-1.500 17-5 24-12" fill="none" stroke="#8a5a2a" stroke-width="3.200"/><path d="M318 886c2-6 4-12 5-20M322 876l9-4" stroke="#8a5a2a" stroke-width="1.600" fill="none"/>
<g stroke="#7aa89a" stroke-width="1.100"><path d="M274 888l6-14M278 890l10-12M273 893l9 5M277 886l-4-8M282 888l2-10M318 872l-5-9M323 868l-1-8M327 872l6-7M330 878l6-3M316 878l-5-6M325 864l5-3"/></g>
<ellipse cx="299.500" cy="880" rx="9" ry="11" fill="#7a5a50"/><ellipse cx="297" cy="868.500" rx="9" ry="7.500" fill="#8a6a5e"/><ellipse cx="297.500" cy="881" rx="5" ry="8" fill="#c4aaa0"/><circle cx="293.500" cy="868.500" r="3" fill="#f0e8c8"/><circle cx="300.500" cy="868.500" r="3" fill="#f0e8c8"/><circle cx="293.500" cy="868.500" r="1.300" fill="#222"/><circle cx="300.500" cy="868.500" r="1.300" fill="#222"/><path d="M296 871l1 3 1-3z" fill="#e8c040"/><path d="M305 874c4 4 5 10 3 16-3-3-4-9-3-16z" fill="#6a4a40"/>
<!-- task view -->
<g fill="none" stroke="#fff" stroke-width="1.300"><rect x="354.500" y="875.500" width="9" height="8"/><path d="M352 873.500v-2h14v2M352 885.500v2h14v-2M367.500 872v3M367.500 884v4"/></g><rect x="366.500" y="877.500" width="2" height="4" fill="#fff"/>
<!-- edge -->
<circle cx="411" cy="880" r="12" fill="url(#edg)"/><path d="M400 876c3-7 14-9 20-3 3 3 3 7 1 9-3 2-7 1-8-1 2-3-1-6-5-5-4 1-7 5-6 10-2-3-3-7-2-10z" fill="url(#edg2)"/><path d="M405 887c-2-6 2-11 7-11 3 0 4 3 2 5 1 3 6 4 9 1-1 6-8 12-15 9-1-1-2-2-3-4z" fill="#0c59a4" opacity=".85"/>
<!-- folder -->
<path d="M449 872h8l2 2.500h12V889h-22z" fill="#f5b92f"/><path d="M449 876h22v13h-22z" fill="#fbd75e"/><path d="M454 883h12v6h-12z" fill="#3a8ee6"/><path d="M457 886h6v3h-6z" fill="#fbd75e"/>
<!-- store -->
<path d="M498 874h22v15q0 3-3 3h-16q-3 0-3-3z" fill="#f4f4f4"/><path d="M504 874v-2.500q0-2.500 2.500-2.500h5q2.500 0 2.500 2.500v2.500" fill="none" stroke="#2a8ad8" stroke-width="1.600"/><rect x="503.500" y="878" width="5" height="5" fill="#f25022"/><rect x="509.500" y="878" width="5" height="5" fill="#7fba00"/><rect x="503.500" y="884" width="5" height="5" fill="#00a4ef"/><rect x="509.500" y="884" width="5" height="5" fill="#ffb900"/>
<!-- mail -->
<path d="M546 877l12-8 12 8v13h-24z" fill="#1a7ad4"/><path d="M546 878l12 7 12-7v12h-24z" fill="#39a5ee"/><path d="M546 878l12 7 12-7" fill="#fff"/><path d="M546 890l9-7M570 890l-9-7" stroke="#1a7ad4" stroke-width=".8"/>
<!-- chrome -->
<circle cx="606" cy="879" r="12" fill="#e33b2e"/><path d="M606 879l-10.400 6A12 12 0 0 0 606 891z" fill="#2da94f"/><path d="M595.600 885A12 12 0 0 0 606 891l5.200-9z" fill="#2da94f"/><path d="M606 891a12 12 0 0 0 10.400-18H606z" fill="#fcc934"/><path d="M595.600 873A12 12 0 0 1 616.400 873H606z" fill="#e33b2e"/><circle cx="606" cy="879" r="5.400" fill="#fff"/><circle cx="606" cy="879" r="4.200" fill="#4a8af4"/><circle cx="613.500" cy="886.500" r="6.500" fill="#3a2a20"/><path d="M608 886h11v3h-11z" fill="#c89a40"/>
<!-- visuino -->
<ellipse cx="655" cy="880" rx="12" ry="11.500" fill="#4a3a2c"/><path d="M644 876c3-6 19-6 22 0-6 2-16 2-22 0z" fill="#6a5a4c"/><circle cx="649.500" cy="882" r="5" fill="#f5a21a"/><circle cx="660.500" cy="882" r="5" fill="#f5a21a"/><path d="M646.500 882h6M658 882h5M660.500 879.500v5" stroke="#b02010" stroke-width="1.300"/><path d="M653.500 884l1.500 4 1.500-4z" fill="#f0d020"/><path d="M648 890q7 4 14 0" fill="#e8c820"/>
<!-- weather -->
<path d="M1214 887h14a4.500 4.500 0 0 0 0-9 7 7 0 0 0-13-1 5 5 0 0 0-1 10z" fill="#dfe9f5"/><path d="M1214 887h14a4.500 4.500 0 0 0 3-8c-2 5-10 7-20 5 0 2 1 3 3 3z" fill="#a9c4e8"/><circle cx="1227" cy="873.500" r="5.500" fill="#d92d2d"/><text x="1227" y="877" font-size="8.500" font-family="Liberation Sans" fill="#fff" text-anchor="middle">1</text>
<!-- tray -->
<path d="M1345.500 883l6-6 6 6" fill="none" stroke="#fff" stroke-width="1.300"/>
<g fill="none" stroke="#fff" stroke-width="1.100"><rect x="1370.500" y="876.500" width="7" height="7" rx="1.500"/><path d="M1377.500 879l3-1.500v5l-3-1.500M1372 874.500q3-2 7 0M1372 886q3 2 7 0"/></g>
<g fill="none" stroke="#fff" stroke-width="1.100"><path d="M1392 875l14-2v10l-14 2z"/><path d="M1396 882l2 3M1396 878a3 3 0 0 1 5 0"/></g><circle cx="1404" cy="885" r="3.300" fill="#f7941d"/>
<g fill="none" stroke="#fff" stroke-width="1.100"><rect x="1420.500" y="876.500" width="10" height="7"/><path d="M1416 878h3v4h-3zM1419 880h1.500"/></g><rect x="1422" y="878" width="6" height="4" fill="#fff"/>
<g fill="none" stroke="#fff" stroke-width="1.300"><path d="M1443 887a10 10 0 0 1 10-10" opacity=".5"/><path d="M1446 887a7 7 0 0 1 7-7"/><path d="M1449 887a4 4 0 0 1 4-4"/></g><circle cx="1452.500" cy="886.500" r="1.300" fill="#fff"/>
<g fill="none" stroke="#fff" stroke-width="1.100"><path d="M1463.500 878h3l4-4v12l-4-4h-3z"/><path d="M1473 877.500q2 2.500 0 5M1475.500 875.500q3.500 4.500 0 9M1478 873.500q5 6.500 0 13"/></g>
<path d="M1559 872h16v10.500h-9l-3 3v-3h-4z" fill="#fff"/><path d="M1562 875.500h10M1562 878.500h10" stroke="#1f2c37" stroke-width="1"/><circle cx="1574" cy="887" r="8" fill="#2a2e33" stroke="#8a8f94" stroke-width=".8"/><text x="1574" y="890.800" font-size="10.500" font-family="Liberation Sans" fill="#fff" text-anchor="middle" letter-spacing="-.5">19</text>
</svg>
</div>

</body></html>
